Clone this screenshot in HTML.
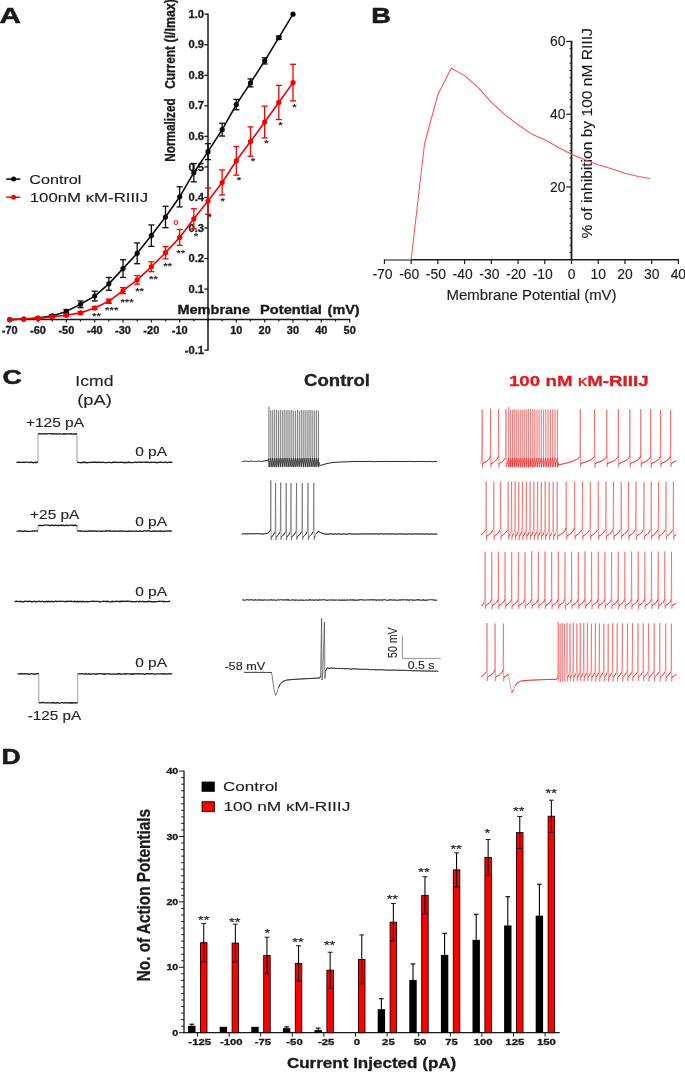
<!DOCTYPE html>
<html lang="en">
<head>
<meta charset="utf-8">
<title>Figure: kM-RIIIJ inhibition and excitability</title>
<style>
html,body{margin:0;padding:0;background:#fff;}
body{width:685px;height:1072px;overflow:hidden;}
svg{display:block;}
svg text{font-family:"Liberation Sans",sans-serif;}
</style>
</head>
<body>
<svg width="685" height="1072" viewBox="0 0 685 1072">
<rect x="0" y="0" width="685" height="1072" fill="#ffffff"/>
<g id="panelA">
<text x="-0.50" y="22.60" font-size="22.80" font-weight="bold" textLength="21.40" lengthAdjust="spacingAndGlyphs" fill="#1a1a1a" stroke="#1a1a1a" stroke-width="0.55">A</text>
<line x1="9.69" y1="319.60" x2="350.35" y2="319.60" stroke="#1a1a1a" stroke-width="1.50"/>
<line x1="208.00" y1="13.60" x2="208.00" y2="350.74" stroke="#1a1a1a" stroke-width="1.50"/>
<line x1="204.40" y1="350.14" x2="208.00" y2="350.14" stroke="#1a1a1a" stroke-width="1.30"/>
<text x="184.68" y="353.74" font-size="10.30" font-weight="bold" textLength="19.32" lengthAdjust="spacingAndGlyphs" fill="#1a1a1a" stroke="#1a1a1a" stroke-width="0.30">-0.1</text>
<line x1="204.40" y1="289.06" x2="208.00" y2="289.06" stroke="#1a1a1a" stroke-width="1.30"/>
<text x="188.41" y="292.66" font-size="10.30" font-weight="bold" textLength="15.59" lengthAdjust="spacingAndGlyphs" fill="#1a1a1a" stroke="#1a1a1a" stroke-width="0.30">0.1</text>
<line x1="204.40" y1="258.52" x2="208.00" y2="258.52" stroke="#1a1a1a" stroke-width="1.30"/>
<text x="188.41" y="262.12" font-size="10.30" font-weight="bold" textLength="15.59" lengthAdjust="spacingAndGlyphs" fill="#1a1a1a" stroke="#1a1a1a" stroke-width="0.30">0.2</text>
<line x1="204.40" y1="227.98" x2="208.00" y2="227.98" stroke="#1a1a1a" stroke-width="1.30"/>
<text x="188.41" y="231.58" font-size="10.30" font-weight="bold" textLength="15.59" lengthAdjust="spacingAndGlyphs" fill="#1a1a1a" stroke="#1a1a1a" stroke-width="0.30">0.3</text>
<line x1="204.40" y1="197.44" x2="208.00" y2="197.44" stroke="#1a1a1a" stroke-width="1.30"/>
<text x="188.41" y="201.04" font-size="10.30" font-weight="bold" textLength="15.59" lengthAdjust="spacingAndGlyphs" fill="#1a1a1a" stroke="#1a1a1a" stroke-width="0.30">0.4</text>
<line x1="204.40" y1="166.90" x2="208.00" y2="166.90" stroke="#1a1a1a" stroke-width="1.30"/>
<text x="188.41" y="170.50" font-size="10.30" font-weight="bold" textLength="15.59" lengthAdjust="spacingAndGlyphs" fill="#1a1a1a" stroke="#1a1a1a" stroke-width="0.30">0.5</text>
<line x1="204.40" y1="136.36" x2="208.00" y2="136.36" stroke="#1a1a1a" stroke-width="1.30"/>
<text x="188.41" y="139.96" font-size="10.30" font-weight="bold" textLength="15.59" lengthAdjust="spacingAndGlyphs" fill="#1a1a1a" stroke="#1a1a1a" stroke-width="0.30">0.6</text>
<line x1="204.40" y1="105.82" x2="208.00" y2="105.82" stroke="#1a1a1a" stroke-width="1.30"/>
<text x="188.41" y="109.42" font-size="10.30" font-weight="bold" textLength="15.59" lengthAdjust="spacingAndGlyphs" fill="#1a1a1a" stroke="#1a1a1a" stroke-width="0.30">0.7</text>
<line x1="204.40" y1="75.28" x2="208.00" y2="75.28" stroke="#1a1a1a" stroke-width="1.30"/>
<text x="188.41" y="78.88" font-size="10.30" font-weight="bold" textLength="15.59" lengthAdjust="spacingAndGlyphs" fill="#1a1a1a" stroke="#1a1a1a" stroke-width="0.30">0.8</text>
<line x1="204.40" y1="44.74" x2="208.00" y2="44.74" stroke="#1a1a1a" stroke-width="1.30"/>
<text x="188.41" y="48.34" font-size="10.30" font-weight="bold" textLength="15.59" lengthAdjust="spacingAndGlyphs" fill="#1a1a1a" stroke="#1a1a1a" stroke-width="0.30">0.9</text>
<line x1="204.40" y1="14.20" x2="208.00" y2="14.20" stroke="#1a1a1a" stroke-width="1.30"/>
<text x="188.41" y="17.80" font-size="10.30" font-weight="bold" textLength="15.59" lengthAdjust="spacingAndGlyphs" fill="#1a1a1a" stroke="#1a1a1a" stroke-width="0.30">1.0</text>
<line x1="9.69" y1="319.60" x2="9.69" y2="322.60" stroke="#1a1a1a" stroke-width="1.20"/>
<text x="1.74" y="333.70" font-size="10.30" font-weight="bold" textLength="15.90" lengthAdjust="spacingAndGlyphs" fill="#1a1a1a" stroke="#1a1a1a" stroke-width="0.30">-70</text>
<line x1="23.85" y1="319.60" x2="23.85" y2="321.50" stroke="#1a1a1a" stroke-width="1.20"/>
<line x1="38.02" y1="319.60" x2="38.02" y2="322.60" stroke="#1a1a1a" stroke-width="1.20"/>
<text x="30.07" y="333.70" font-size="10.30" font-weight="bold" textLength="15.90" lengthAdjust="spacingAndGlyphs" fill="#1a1a1a" stroke="#1a1a1a" stroke-width="0.30">-60</text>
<line x1="52.19" y1="319.60" x2="52.19" y2="321.50" stroke="#1a1a1a" stroke-width="1.20"/>
<line x1="66.35" y1="319.60" x2="66.35" y2="322.60" stroke="#1a1a1a" stroke-width="1.20"/>
<text x="58.40" y="333.70" font-size="10.30" font-weight="bold" textLength="15.90" lengthAdjust="spacingAndGlyphs" fill="#1a1a1a" stroke="#1a1a1a" stroke-width="0.30">-50</text>
<line x1="80.51" y1="319.60" x2="80.51" y2="321.50" stroke="#1a1a1a" stroke-width="1.20"/>
<line x1="94.68" y1="319.60" x2="94.68" y2="322.60" stroke="#1a1a1a" stroke-width="1.20"/>
<text x="86.73" y="333.70" font-size="10.30" font-weight="bold" textLength="15.90" lengthAdjust="spacingAndGlyphs" fill="#1a1a1a" stroke="#1a1a1a" stroke-width="0.30">-40</text>
<line x1="108.84" y1="319.60" x2="108.84" y2="321.50" stroke="#1a1a1a" stroke-width="1.20"/>
<line x1="123.01" y1="319.60" x2="123.01" y2="322.60" stroke="#1a1a1a" stroke-width="1.20"/>
<text x="115.06" y="333.70" font-size="10.30" font-weight="bold" textLength="15.90" lengthAdjust="spacingAndGlyphs" fill="#1a1a1a" stroke="#1a1a1a" stroke-width="0.30">-30</text>
<line x1="137.18" y1="319.60" x2="137.18" y2="321.50" stroke="#1a1a1a" stroke-width="1.20"/>
<line x1="151.34" y1="319.60" x2="151.34" y2="322.60" stroke="#1a1a1a" stroke-width="1.20"/>
<text x="143.39" y="333.70" font-size="10.30" font-weight="bold" textLength="15.90" lengthAdjust="spacingAndGlyphs" fill="#1a1a1a" stroke="#1a1a1a" stroke-width="0.30">-20</text>
<line x1="165.50" y1="319.60" x2="165.50" y2="321.50" stroke="#1a1a1a" stroke-width="1.20"/>
<line x1="179.67" y1="319.60" x2="179.67" y2="322.60" stroke="#1a1a1a" stroke-width="1.20"/>
<text x="171.72" y="333.70" font-size="10.30" font-weight="bold" textLength="15.90" lengthAdjust="spacingAndGlyphs" fill="#1a1a1a" stroke="#1a1a1a" stroke-width="0.30">-10</text>
<line x1="193.84" y1="319.60" x2="193.84" y2="321.50" stroke="#1a1a1a" stroke-width="1.20"/>
<line x1="208.00" y1="319.60" x2="208.00" y2="322.60" stroke="#1a1a1a" stroke-width="1.20"/>
<line x1="222.16" y1="319.60" x2="222.16" y2="321.50" stroke="#1a1a1a" stroke-width="1.20"/>
<line x1="236.33" y1="319.60" x2="236.33" y2="322.60" stroke="#1a1a1a" stroke-width="1.20"/>
<text x="230.21" y="333.70" font-size="10.30" font-weight="bold" textLength="12.24" lengthAdjust="spacingAndGlyphs" fill="#1a1a1a" stroke="#1a1a1a" stroke-width="0.30">10</text>
<line x1="250.50" y1="319.60" x2="250.50" y2="321.50" stroke="#1a1a1a" stroke-width="1.20"/>
<line x1="264.66" y1="319.60" x2="264.66" y2="322.60" stroke="#1a1a1a" stroke-width="1.20"/>
<text x="258.54" y="333.70" font-size="10.30" font-weight="bold" textLength="12.24" lengthAdjust="spacingAndGlyphs" fill="#1a1a1a" stroke="#1a1a1a" stroke-width="0.30">20</text>
<line x1="278.82" y1="319.60" x2="278.82" y2="321.50" stroke="#1a1a1a" stroke-width="1.20"/>
<line x1="292.99" y1="319.60" x2="292.99" y2="322.60" stroke="#1a1a1a" stroke-width="1.20"/>
<text x="286.87" y="333.70" font-size="10.30" font-weight="bold" textLength="12.24" lengthAdjust="spacingAndGlyphs" fill="#1a1a1a" stroke="#1a1a1a" stroke-width="0.30">30</text>
<line x1="307.15" y1="319.60" x2="307.15" y2="321.50" stroke="#1a1a1a" stroke-width="1.20"/>
<line x1="321.32" y1="319.60" x2="321.32" y2="322.60" stroke="#1a1a1a" stroke-width="1.20"/>
<text x="315.20" y="333.70" font-size="10.30" font-weight="bold" textLength="12.24" lengthAdjust="spacingAndGlyphs" fill="#1a1a1a" stroke="#1a1a1a" stroke-width="0.30">40</text>
<line x1="335.49" y1="319.60" x2="335.49" y2="321.50" stroke="#1a1a1a" stroke-width="1.20"/>
<line x1="349.65" y1="319.60" x2="349.65" y2="322.60" stroke="#1a1a1a" stroke-width="1.20"/>
<text x="343.53" y="333.70" font-size="10.30" font-weight="bold" textLength="12.24" lengthAdjust="spacingAndGlyphs" fill="#1a1a1a" stroke="#1a1a1a" stroke-width="0.30">50</text>
<text x="177.40" y="313.70" font-size="12.30" font-weight="bold" textLength="72.70" lengthAdjust="spacingAndGlyphs" fill="#1a1a1a" stroke="#1a1a1a" stroke-width="0.30">Membrane</text>
<text x="260.10" y="313.70" font-size="12.30" font-weight="bold" textLength="61.80" lengthAdjust="spacingAndGlyphs" fill="#1a1a1a" stroke="#1a1a1a" stroke-width="0.30">Potential</text>
<text x="327.60" y="313.70" font-size="12.30" font-weight="bold" textLength="32.00" lengthAdjust="spacingAndGlyphs" fill="#1a1a1a" stroke="#1a1a1a" stroke-width="0.30">(mV)</text>
<text transform="translate(174.70 161.70) rotate(-90)" x="0" y="0" font-size="14.80" font-weight="bold" textLength="63.40" lengthAdjust="spacingAndGlyphs" fill="#1a1a1a" stroke="#1a1a1a" stroke-width="0.35">Normalized</text>
<text transform="translate(174.70 88.80) rotate(-90)" x="0" y="0" font-size="14.80" font-weight="bold" textLength="42.80" lengthAdjust="spacingAndGlyphs" fill="#1a1a1a" stroke="#1a1a1a" stroke-width="0.35">Current</text>
<text transform="translate(174.70 42.50) rotate(-90)" x="0" y="0" font-size="14.80" font-weight="bold" textLength="43.50" lengthAdjust="spacingAndGlyphs" fill="#1a1a1a" stroke="#1a1a1a" stroke-width="0.35">(I/Imax)</text>
<line x1="6.20" y1="179.10" x2="20.30" y2="179.10" stroke="#000" stroke-width="1.50"/>
<circle cx="13.6" cy="179.1" r="2.5" fill="#000"/>
<text x="29.30" y="183.80" font-size="13.10" textLength="52.10" lengthAdjust="spacingAndGlyphs" fill="#1a1a1a" stroke="#1a1a1a" stroke-width="0.12">Control</text>
<line x1="6.20" y1="197.20" x2="20.30" y2="197.20" stroke="#f00" stroke-width="1.50"/>
<circle cx="13.6" cy="197.2" r="2.5" fill="#f00"/>
<text x="29.80" y="201.70" font-size="13.10" textLength="118.30" lengthAdjust="spacingAndGlyphs" fill="#1a1a1a" stroke="#1a1a1a" stroke-width="0.12">100nM κM-RIIIJ</text>
<polyline fill="none" stroke="#0a0a0a" stroke-width="1.60" stroke-linejoin="round" points="9.7,319.6 23.9,319.0 38.0,318.1 52.2,315.9 66.3,311.4 80.5,304.3 94.7,296.1 108.8,283.9 123.0,268.6 137.2,253.3 151.3,235.6 165.5,217.0 179.7,196.8 193.8,172.7 208.0,151.6 222.2,129.6 236.3,104.6 250.5,82.9 264.7,60.9 278.8,37.7 293.0,14.2"/>
<circle cx="9.69" cy="319.60" r="2.6" fill="#0a0a0a"/>
<circle cx="23.85" cy="318.99" r="2.6" fill="#0a0a0a"/>
<line x1="38.02" y1="317.46" x2="38.02" y2="318.68" stroke="#0a0a0a" stroke-width="1.30"/>
<line x1="35.02" y1="317.46" x2="41.02" y2="317.46" stroke="#0a0a0a" stroke-width="1.30"/>
<line x1="35.02" y1="318.68" x2="41.02" y2="318.68" stroke="#0a0a0a" stroke-width="1.30"/>
<circle cx="38.02" cy="318.07" r="2.6" fill="#0a0a0a"/>
<line x1="52.19" y1="314.71" x2="52.19" y2="317.16" stroke="#0a0a0a" stroke-width="1.30"/>
<line x1="49.19" y1="314.71" x2="55.19" y2="314.71" stroke="#0a0a0a" stroke-width="1.30"/>
<line x1="49.19" y1="317.16" x2="55.19" y2="317.16" stroke="#0a0a0a" stroke-width="1.30"/>
<circle cx="52.19" cy="315.94" r="2.6" fill="#0a0a0a"/>
<line x1="66.35" y1="309.52" x2="66.35" y2="313.19" stroke="#0a0a0a" stroke-width="1.30"/>
<line x1="63.35" y1="309.52" x2="69.35" y2="309.52" stroke="#0a0a0a" stroke-width="1.30"/>
<line x1="63.35" y1="313.19" x2="69.35" y2="313.19" stroke="#0a0a0a" stroke-width="1.30"/>
<circle cx="66.35" cy="311.35" r="2.6" fill="#0a0a0a"/>
<line x1="80.51" y1="300.97" x2="80.51" y2="307.69" stroke="#0a0a0a" stroke-width="1.30"/>
<line x1="77.51" y1="300.97" x2="83.51" y2="300.97" stroke="#0a0a0a" stroke-width="1.30"/>
<line x1="77.51" y1="307.69" x2="83.51" y2="307.69" stroke="#0a0a0a" stroke-width="1.30"/>
<circle cx="80.51" cy="304.33" r="2.6" fill="#0a0a0a"/>
<line x1="94.68" y1="291.20" x2="94.68" y2="300.97" stroke="#0a0a0a" stroke-width="1.30"/>
<line x1="91.68" y1="291.20" x2="97.68" y2="291.20" stroke="#0a0a0a" stroke-width="1.30"/>
<line x1="91.68" y1="300.97" x2="97.68" y2="300.97" stroke="#0a0a0a" stroke-width="1.30"/>
<circle cx="94.68" cy="296.08" r="2.6" fill="#0a0a0a"/>
<line x1="108.84" y1="277.45" x2="108.84" y2="290.28" stroke="#0a0a0a" stroke-width="1.30"/>
<line x1="105.84" y1="277.45" x2="111.84" y2="277.45" stroke="#0a0a0a" stroke-width="1.30"/>
<line x1="105.84" y1="290.28" x2="111.84" y2="290.28" stroke="#0a0a0a" stroke-width="1.30"/>
<circle cx="108.84" cy="283.87" r="2.6" fill="#0a0a0a"/>
<line x1="123.01" y1="259.74" x2="123.01" y2="277.45" stroke="#0a0a0a" stroke-width="1.30"/>
<line x1="120.01" y1="259.74" x2="126.01" y2="259.74" stroke="#0a0a0a" stroke-width="1.30"/>
<line x1="120.01" y1="277.45" x2="126.01" y2="277.45" stroke="#0a0a0a" stroke-width="1.30"/>
<circle cx="123.01" cy="268.60" r="2.6" fill="#0a0a0a"/>
<line x1="137.18" y1="242.94" x2="137.18" y2="263.71" stroke="#0a0a0a" stroke-width="1.30"/>
<line x1="134.18" y1="242.94" x2="140.18" y2="242.94" stroke="#0a0a0a" stroke-width="1.30"/>
<line x1="134.18" y1="263.71" x2="140.18" y2="263.71" stroke="#0a0a0a" stroke-width="1.30"/>
<circle cx="137.18" cy="253.33" r="2.6" fill="#0a0a0a"/>
<line x1="151.34" y1="224.93" x2="151.34" y2="246.30" stroke="#0a0a0a" stroke-width="1.30"/>
<line x1="148.34" y1="224.93" x2="154.34" y2="224.93" stroke="#0a0a0a" stroke-width="1.30"/>
<line x1="148.34" y1="246.30" x2="154.34" y2="246.30" stroke="#0a0a0a" stroke-width="1.30"/>
<circle cx="151.34" cy="235.62" r="2.6" fill="#0a0a0a"/>
<line x1="165.50" y1="206.30" x2="165.50" y2="227.67" stroke="#0a0a0a" stroke-width="1.30"/>
<line x1="162.50" y1="206.30" x2="168.50" y2="206.30" stroke="#0a0a0a" stroke-width="1.30"/>
<line x1="162.50" y1="227.67" x2="168.50" y2="227.67" stroke="#0a0a0a" stroke-width="1.30"/>
<circle cx="165.50" cy="216.99" r="2.6" fill="#0a0a0a"/>
<line x1="179.67" y1="186.75" x2="179.67" y2="206.91" stroke="#0a0a0a" stroke-width="1.30"/>
<line x1="176.67" y1="186.75" x2="182.67" y2="186.75" stroke="#0a0a0a" stroke-width="1.30"/>
<line x1="176.67" y1="206.91" x2="182.67" y2="206.91" stroke="#0a0a0a" stroke-width="1.30"/>
<circle cx="179.67" cy="196.83" r="2.6" fill="#0a0a0a"/>
<line x1="193.84" y1="163.54" x2="193.84" y2="181.86" stroke="#0a0a0a" stroke-width="1.30"/>
<line x1="190.84" y1="163.54" x2="196.84" y2="163.54" stroke="#0a0a0a" stroke-width="1.30"/>
<line x1="190.84" y1="181.86" x2="196.84" y2="181.86" stroke="#0a0a0a" stroke-width="1.30"/>
<circle cx="193.84" cy="172.70" r="2.6" fill="#0a0a0a"/>
<line x1="208.00" y1="143.69" x2="208.00" y2="159.57" stroke="#0a0a0a" stroke-width="1.30"/>
<line x1="205.00" y1="143.69" x2="211.00" y2="143.69" stroke="#0a0a0a" stroke-width="1.30"/>
<line x1="205.00" y1="159.57" x2="211.00" y2="159.57" stroke="#0a0a0a" stroke-width="1.30"/>
<circle cx="208.00" cy="151.63" r="2.6" fill="#0a0a0a"/>
<line x1="222.16" y1="123.23" x2="222.16" y2="136.05" stroke="#0a0a0a" stroke-width="1.30"/>
<line x1="219.16" y1="123.23" x2="225.16" y2="123.23" stroke="#0a0a0a" stroke-width="1.30"/>
<line x1="219.16" y1="136.05" x2="225.16" y2="136.05" stroke="#0a0a0a" stroke-width="1.30"/>
<circle cx="222.16" cy="129.64" r="2.6" fill="#0a0a0a"/>
<line x1="236.33" y1="99.41" x2="236.33" y2="109.79" stroke="#0a0a0a" stroke-width="1.30"/>
<line x1="233.33" y1="99.41" x2="239.33" y2="99.41" stroke="#0a0a0a" stroke-width="1.30"/>
<line x1="233.33" y1="109.79" x2="239.33" y2="109.79" stroke="#0a0a0a" stroke-width="1.30"/>
<circle cx="236.33" cy="104.60" r="2.6" fill="#0a0a0a"/>
<line x1="250.50" y1="78.94" x2="250.50" y2="86.89" stroke="#0a0a0a" stroke-width="1.30"/>
<line x1="247.50" y1="78.94" x2="253.50" y2="78.94" stroke="#0a0a0a" stroke-width="1.30"/>
<line x1="247.50" y1="86.89" x2="253.50" y2="86.89" stroke="#0a0a0a" stroke-width="1.30"/>
<circle cx="250.50" cy="82.92" r="2.6" fill="#0a0a0a"/>
<line x1="264.66" y1="57.87" x2="264.66" y2="63.98" stroke="#0a0a0a" stroke-width="1.30"/>
<line x1="261.66" y1="57.87" x2="267.66" y2="57.87" stroke="#0a0a0a" stroke-width="1.30"/>
<line x1="261.66" y1="63.98" x2="267.66" y2="63.98" stroke="#0a0a0a" stroke-width="1.30"/>
<circle cx="264.66" cy="60.93" r="2.6" fill="#0a0a0a"/>
<line x1="278.82" y1="36.19" x2="278.82" y2="39.24" stroke="#0a0a0a" stroke-width="1.30"/>
<line x1="275.82" y1="36.19" x2="281.82" y2="36.19" stroke="#0a0a0a" stroke-width="1.30"/>
<line x1="275.82" y1="39.24" x2="281.82" y2="39.24" stroke="#0a0a0a" stroke-width="1.30"/>
<circle cx="278.82" cy="37.72" r="2.6" fill="#0a0a0a"/>
<circle cx="292.99" cy="14.20" r="2.6" fill="#0a0a0a"/>
<polyline fill="none" stroke="#f40000" stroke-width="1.60" stroke-linejoin="round" points="9.7,319.6 23.9,319.0 38.0,318.4 52.2,316.9 66.3,315.3 80.5,312.9 94.7,308.0 108.8,301.3 123.0,290.6 137.2,279.9 151.3,266.8 165.5,252.7 179.7,237.4 193.8,218.8 208.0,201.1 222.2,182.5 236.3,160.8 250.5,141.6 264.7,122.0 278.8,102.5 293.0,82.6"/>
<circle cx="9.69" cy="319.60" r="2.6" fill="#f40000"/>
<circle cx="23.85" cy="318.99" r="2.6" fill="#f40000"/>
<circle cx="38.02" cy="318.38" r="2.6" fill="#f40000"/>
<line x1="52.19" y1="316.24" x2="52.19" y2="317.46" stroke="#f40000" stroke-width="1.30"/>
<line x1="49.19" y1="316.24" x2="55.19" y2="316.24" stroke="#f40000" stroke-width="1.30"/>
<line x1="49.19" y1="317.46" x2="55.19" y2="317.46" stroke="#f40000" stroke-width="1.30"/>
<circle cx="52.19" cy="316.85" r="2.6" fill="#f40000"/>
<line x1="66.35" y1="314.41" x2="66.35" y2="316.24" stroke="#f40000" stroke-width="1.30"/>
<line x1="63.35" y1="314.41" x2="69.35" y2="314.41" stroke="#f40000" stroke-width="1.30"/>
<line x1="63.35" y1="316.24" x2="69.35" y2="316.24" stroke="#f40000" stroke-width="1.30"/>
<circle cx="66.35" cy="315.32" r="2.6" fill="#f40000"/>
<line x1="80.51" y1="311.66" x2="80.51" y2="314.10" stroke="#f40000" stroke-width="1.30"/>
<line x1="77.51" y1="311.66" x2="83.51" y2="311.66" stroke="#f40000" stroke-width="1.30"/>
<line x1="77.51" y1="314.10" x2="83.51" y2="314.10" stroke="#f40000" stroke-width="1.30"/>
<circle cx="80.51" cy="312.88" r="2.6" fill="#f40000"/>
<line x1="94.68" y1="306.47" x2="94.68" y2="309.52" stroke="#f40000" stroke-width="1.30"/>
<line x1="91.68" y1="306.47" x2="97.68" y2="306.47" stroke="#f40000" stroke-width="1.30"/>
<line x1="91.68" y1="309.52" x2="97.68" y2="309.52" stroke="#f40000" stroke-width="1.30"/>
<circle cx="94.68" cy="307.99" r="2.6" fill="#f40000"/>
<line x1="108.84" y1="299.14" x2="108.84" y2="303.41" stroke="#f40000" stroke-width="1.30"/>
<line x1="105.84" y1="299.14" x2="111.84" y2="299.14" stroke="#f40000" stroke-width="1.30"/>
<line x1="105.84" y1="303.41" x2="111.84" y2="303.41" stroke="#f40000" stroke-width="1.30"/>
<circle cx="108.84" cy="301.28" r="2.6" fill="#f40000"/>
<line x1="123.01" y1="287.53" x2="123.01" y2="293.64" stroke="#f40000" stroke-width="1.30"/>
<line x1="120.01" y1="287.53" x2="126.01" y2="287.53" stroke="#f40000" stroke-width="1.30"/>
<line x1="120.01" y1="293.64" x2="126.01" y2="293.64" stroke="#f40000" stroke-width="1.30"/>
<circle cx="123.01" cy="290.59" r="2.6" fill="#f40000"/>
<line x1="137.18" y1="275.62" x2="137.18" y2="284.17" stroke="#f40000" stroke-width="1.30"/>
<line x1="134.18" y1="275.62" x2="140.18" y2="275.62" stroke="#f40000" stroke-width="1.30"/>
<line x1="134.18" y1="284.17" x2="140.18" y2="284.17" stroke="#f40000" stroke-width="1.30"/>
<circle cx="137.18" cy="279.90" r="2.6" fill="#f40000"/>
<line x1="151.34" y1="261.88" x2="151.34" y2="271.65" stroke="#f40000" stroke-width="1.30"/>
<line x1="148.34" y1="261.88" x2="154.34" y2="261.88" stroke="#f40000" stroke-width="1.30"/>
<line x1="148.34" y1="271.65" x2="154.34" y2="271.65" stroke="#f40000" stroke-width="1.30"/>
<circle cx="151.34" cy="266.77" r="2.6" fill="#f40000"/>
<line x1="165.50" y1="246.61" x2="165.50" y2="258.83" stroke="#f40000" stroke-width="1.30"/>
<line x1="162.50" y1="246.61" x2="168.50" y2="246.61" stroke="#f40000" stroke-width="1.30"/>
<line x1="162.50" y1="258.83" x2="168.50" y2="258.83" stroke="#f40000" stroke-width="1.30"/>
<circle cx="165.50" cy="252.72" r="2.6" fill="#f40000"/>
<line x1="179.67" y1="229.51" x2="179.67" y2="245.39" stroke="#f40000" stroke-width="1.30"/>
<line x1="176.67" y1="229.51" x2="182.67" y2="229.51" stroke="#f40000" stroke-width="1.30"/>
<line x1="176.67" y1="245.39" x2="182.67" y2="245.39" stroke="#f40000" stroke-width="1.30"/>
<circle cx="179.67" cy="237.45" r="2.6" fill="#f40000"/>
<line x1="193.84" y1="208.74" x2="193.84" y2="228.90" stroke="#f40000" stroke-width="1.30"/>
<line x1="190.84" y1="208.74" x2="196.84" y2="208.74" stroke="#f40000" stroke-width="1.30"/>
<line x1="190.84" y1="228.90" x2="196.84" y2="228.90" stroke="#f40000" stroke-width="1.30"/>
<circle cx="193.84" cy="218.82" r="2.6" fill="#f40000"/>
<line x1="208.00" y1="187.97" x2="208.00" y2="214.24" stroke="#f40000" stroke-width="1.30"/>
<line x1="205.00" y1="187.97" x2="211.00" y2="187.97" stroke="#f40000" stroke-width="1.30"/>
<line x1="205.00" y1="214.24" x2="211.00" y2="214.24" stroke="#f40000" stroke-width="1.30"/>
<circle cx="208.00" cy="201.10" r="2.6" fill="#f40000"/>
<line x1="222.16" y1="169.95" x2="222.16" y2="195.00" stroke="#f40000" stroke-width="1.30"/>
<line x1="219.16" y1="169.95" x2="225.16" y2="169.95" stroke="#f40000" stroke-width="1.30"/>
<line x1="219.16" y1="195.00" x2="225.16" y2="195.00" stroke="#f40000" stroke-width="1.30"/>
<circle cx="222.16" cy="182.48" r="2.6" fill="#f40000"/>
<line x1="236.33" y1="146.44" x2="236.33" y2="175.15" stroke="#f40000" stroke-width="1.30"/>
<line x1="233.33" y1="146.44" x2="239.33" y2="146.44" stroke="#f40000" stroke-width="1.30"/>
<line x1="233.33" y1="175.15" x2="239.33" y2="175.15" stroke="#f40000" stroke-width="1.30"/>
<circle cx="236.33" cy="160.79" r="2.6" fill="#f40000"/>
<line x1="250.50" y1="126.89" x2="250.50" y2="156.21" stroke="#f40000" stroke-width="1.30"/>
<line x1="247.50" y1="126.89" x2="253.50" y2="126.89" stroke="#f40000" stroke-width="1.30"/>
<line x1="247.50" y1="156.21" x2="253.50" y2="156.21" stroke="#f40000" stroke-width="1.30"/>
<circle cx="250.50" cy="141.55" r="2.6" fill="#f40000"/>
<line x1="264.66" y1="106.13" x2="264.66" y2="137.89" stroke="#f40000" stroke-width="1.30"/>
<line x1="261.66" y1="106.13" x2="267.66" y2="106.13" stroke="#f40000" stroke-width="1.30"/>
<line x1="261.66" y1="137.89" x2="267.66" y2="137.89" stroke="#f40000" stroke-width="1.30"/>
<circle cx="264.66" cy="122.01" r="2.6" fill="#f40000"/>
<line x1="278.82" y1="85.36" x2="278.82" y2="119.56" stroke="#f40000" stroke-width="1.30"/>
<line x1="275.82" y1="85.36" x2="281.82" y2="85.36" stroke="#f40000" stroke-width="1.30"/>
<line x1="275.82" y1="119.56" x2="281.82" y2="119.56" stroke="#f40000" stroke-width="1.30"/>
<circle cx="278.82" cy="102.46" r="2.6" fill="#f40000"/>
<line x1="292.99" y1="64.29" x2="292.99" y2="100.93" stroke="#f40000" stroke-width="1.30"/>
<line x1="289.99" y1="64.29" x2="295.99" y2="64.29" stroke="#f40000" stroke-width="1.30"/>
<line x1="289.99" y1="100.93" x2="295.99" y2="100.93" stroke="#f40000" stroke-width="1.30"/>
<circle cx="292.99" cy="82.61" r="2.6" fill="#f40000"/>
<text x="91.95" y="319.30" font-size="9.00" font-weight="bold" textLength="8.90" lengthAdjust="spacingAndGlyphs" fill="#2a2a2a">**</text>
<text x="105.03" y="312.70" font-size="9.00" font-weight="bold" textLength="13.34" lengthAdjust="spacingAndGlyphs" fill="#2a2a2a">***</text>
<text x="120.43" y="305.30" font-size="9.00" font-weight="bold" textLength="13.34" lengthAdjust="spacingAndGlyphs" fill="#2a2a2a">***</text>
<text x="135.15" y="294.10" font-size="9.00" font-weight="bold" textLength="8.90" lengthAdjust="spacingAndGlyphs" fill="#2a2a2a">**</text>
<text x="148.95" y="282.30" font-size="9.00" font-weight="bold" textLength="8.90" lengthAdjust="spacingAndGlyphs" fill="#2a2a2a">**</text>
<text x="163.15" y="268.90" font-size="9.00" font-weight="bold" textLength="8.90" lengthAdjust="spacingAndGlyphs" fill="#2a2a2a">**</text>
<text x="176.25" y="255.80" font-size="9.00" font-weight="bold" textLength="8.90" lengthAdjust="spacingAndGlyphs" fill="#2a2a2a">**</text>
<text x="193.78" y="238.90" font-size="9.00" font-weight="bold" textLength="4.45" lengthAdjust="spacingAndGlyphs" fill="#2a2a2a">*</text>
<text x="207.18" y="219.70" font-size="9.00" font-weight="bold" textLength="4.45" lengthAdjust="spacingAndGlyphs" fill="#2a2a2a">*</text>
<text x="220.58" y="204.20" font-size="9.00" font-weight="bold" textLength="4.45" lengthAdjust="spacingAndGlyphs" fill="#2a2a2a">*</text>
<text x="236.68" y="182.70" font-size="9.00" font-weight="bold" textLength="4.45" lengthAdjust="spacingAndGlyphs" fill="#2a2a2a">*</text>
<text x="250.68" y="164.10" font-size="9.00" font-weight="bold" textLength="4.45" lengthAdjust="spacingAndGlyphs" fill="#2a2a2a">*</text>
<text x="264.18" y="146.10" font-size="9.00" font-weight="bold" textLength="4.45" lengthAdjust="spacingAndGlyphs" fill="#2a2a2a">*</text>
<text x="278.18" y="127.60" font-size="9.00" font-weight="bold" textLength="4.45" lengthAdjust="spacingAndGlyphs" fill="#2a2a2a">*</text>
<text x="292.18" y="109.60" font-size="9.00" font-weight="bold" textLength="4.45" lengthAdjust="spacingAndGlyphs" fill="#2a2a2a">*</text>
<circle cx="175.9" cy="222.6" r="1.9" fill="none" stroke="#f00" stroke-width="1.1"/>
</g>
<g id="panelB">
<text x="371.20" y="23.30" font-size="22.90" font-weight="bold" textLength="19.60" lengthAdjust="spacingAndGlyphs" fill="#1a1a1a" stroke="#1a1a1a" stroke-width="0.55">B</text>
<line x1="383.86" y1="259.80" x2="678.98" y2="259.80" stroke="#1a1a1a" stroke-width="1.40"/>
<line x1="571.50" y1="40.80" x2="571.50" y2="259.80" stroke="#1a1a1a" stroke-width="1.80"/>
<line x1="569.60" y1="252.52" x2="571.50" y2="252.52" stroke="#1a1a1a" stroke-width="1.00"/>
<line x1="569.60" y1="245.24" x2="571.50" y2="245.24" stroke="#1a1a1a" stroke-width="1.00"/>
<line x1="569.60" y1="237.96" x2="571.50" y2="237.96" stroke="#1a1a1a" stroke-width="1.00"/>
<line x1="569.60" y1="230.68" x2="571.50" y2="230.68" stroke="#1a1a1a" stroke-width="1.00"/>
<line x1="569.60" y1="223.40" x2="571.50" y2="223.40" stroke="#1a1a1a" stroke-width="1.00"/>
<line x1="569.60" y1="216.12" x2="571.50" y2="216.12" stroke="#1a1a1a" stroke-width="1.00"/>
<line x1="569.60" y1="208.84" x2="571.50" y2="208.84" stroke="#1a1a1a" stroke-width="1.00"/>
<line x1="569.60" y1="201.56" x2="571.50" y2="201.56" stroke="#1a1a1a" stroke-width="1.00"/>
<line x1="569.60" y1="194.28" x2="571.50" y2="194.28" stroke="#1a1a1a" stroke-width="1.00"/>
<line x1="566.30" y1="187.00" x2="571.50" y2="187.00" stroke="#1a1a1a" stroke-width="1.20"/>
<text x="550.04" y="191.90" font-size="13.90" textLength="15.46" lengthAdjust="spacingAndGlyphs" fill="#1a1a1a" stroke="#1a1a1a" stroke-width="0.12">20</text>
<line x1="569.60" y1="179.72" x2="571.50" y2="179.72" stroke="#1a1a1a" stroke-width="1.00"/>
<line x1="569.60" y1="172.44" x2="571.50" y2="172.44" stroke="#1a1a1a" stroke-width="1.00"/>
<line x1="569.60" y1="165.16" x2="571.50" y2="165.16" stroke="#1a1a1a" stroke-width="1.00"/>
<line x1="569.60" y1="157.88" x2="571.50" y2="157.88" stroke="#1a1a1a" stroke-width="1.00"/>
<line x1="569.60" y1="150.60" x2="571.50" y2="150.60" stroke="#1a1a1a" stroke-width="1.00"/>
<line x1="569.60" y1="143.32" x2="571.50" y2="143.32" stroke="#1a1a1a" stroke-width="1.00"/>
<line x1="569.60" y1="136.04" x2="571.50" y2="136.04" stroke="#1a1a1a" stroke-width="1.00"/>
<line x1="569.60" y1="128.76" x2="571.50" y2="128.76" stroke="#1a1a1a" stroke-width="1.00"/>
<line x1="569.60" y1="121.48" x2="571.50" y2="121.48" stroke="#1a1a1a" stroke-width="1.00"/>
<line x1="566.30" y1="114.20" x2="571.50" y2="114.20" stroke="#1a1a1a" stroke-width="1.20"/>
<text x="550.04" y="119.10" font-size="13.90" textLength="15.46" lengthAdjust="spacingAndGlyphs" fill="#1a1a1a" stroke="#1a1a1a" stroke-width="0.12">40</text>
<line x1="569.60" y1="106.92" x2="571.50" y2="106.92" stroke="#1a1a1a" stroke-width="1.00"/>
<line x1="569.60" y1="99.64" x2="571.50" y2="99.64" stroke="#1a1a1a" stroke-width="1.00"/>
<line x1="569.60" y1="92.36" x2="571.50" y2="92.36" stroke="#1a1a1a" stroke-width="1.00"/>
<line x1="569.60" y1="85.08" x2="571.50" y2="85.08" stroke="#1a1a1a" stroke-width="1.00"/>
<line x1="569.60" y1="77.80" x2="571.50" y2="77.80" stroke="#1a1a1a" stroke-width="1.00"/>
<line x1="569.60" y1="70.52" x2="571.50" y2="70.52" stroke="#1a1a1a" stroke-width="1.00"/>
<line x1="569.60" y1="63.24" x2="571.50" y2="63.24" stroke="#1a1a1a" stroke-width="1.00"/>
<line x1="569.60" y1="55.96" x2="571.50" y2="55.96" stroke="#1a1a1a" stroke-width="1.00"/>
<line x1="569.60" y1="48.68" x2="571.50" y2="48.68" stroke="#1a1a1a" stroke-width="1.00"/>
<line x1="566.30" y1="41.40" x2="571.50" y2="41.40" stroke="#1a1a1a" stroke-width="1.20"/>
<text x="550.04" y="46.30" font-size="13.90" textLength="15.46" lengthAdjust="spacingAndGlyphs" fill="#1a1a1a" stroke="#1a1a1a" stroke-width="0.12">60</text>
<line x1="384.46" y1="259.80" x2="384.46" y2="264.00" stroke="#1a1a1a" stroke-width="1.20"/>
<text x="372.41" y="278.60" font-size="13.90" textLength="20.09" lengthAdjust="spacingAndGlyphs" fill="#1a1a1a" stroke="#1a1a1a" stroke-width="0.12">-70</text>
<line x1="411.18" y1="259.80" x2="411.18" y2="264.00" stroke="#1a1a1a" stroke-width="1.20"/>
<text x="399.13" y="278.60" font-size="13.90" textLength="20.09" lengthAdjust="spacingAndGlyphs" fill="#1a1a1a" stroke="#1a1a1a" stroke-width="0.12">-60</text>
<line x1="437.90" y1="259.80" x2="437.90" y2="264.00" stroke="#1a1a1a" stroke-width="1.20"/>
<text x="425.85" y="278.60" font-size="13.90" textLength="20.09" lengthAdjust="spacingAndGlyphs" fill="#1a1a1a" stroke="#1a1a1a" stroke-width="0.12">-50</text>
<line x1="464.62" y1="259.80" x2="464.62" y2="264.00" stroke="#1a1a1a" stroke-width="1.20"/>
<text x="452.57" y="278.60" font-size="13.90" textLength="20.09" lengthAdjust="spacingAndGlyphs" fill="#1a1a1a" stroke="#1a1a1a" stroke-width="0.12">-40</text>
<line x1="491.34" y1="259.80" x2="491.34" y2="264.00" stroke="#1a1a1a" stroke-width="1.20"/>
<text x="479.29" y="278.60" font-size="13.90" textLength="20.09" lengthAdjust="spacingAndGlyphs" fill="#1a1a1a" stroke="#1a1a1a" stroke-width="0.12">-30</text>
<line x1="518.06" y1="259.80" x2="518.06" y2="264.00" stroke="#1a1a1a" stroke-width="1.20"/>
<text x="506.01" y="278.60" font-size="13.90" textLength="20.09" lengthAdjust="spacingAndGlyphs" fill="#1a1a1a" stroke="#1a1a1a" stroke-width="0.12">-20</text>
<line x1="544.78" y1="259.80" x2="544.78" y2="264.00" stroke="#1a1a1a" stroke-width="1.20"/>
<text x="532.73" y="278.60" font-size="13.90" textLength="20.09" lengthAdjust="spacingAndGlyphs" fill="#1a1a1a" stroke="#1a1a1a" stroke-width="0.12">-10</text>
<line x1="571.50" y1="259.80" x2="571.50" y2="264.00" stroke="#1a1a1a" stroke-width="1.20"/>
<text x="567.63" y="278.60" font-size="13.90" textLength="7.73" lengthAdjust="spacingAndGlyphs" fill="#1a1a1a" stroke="#1a1a1a" stroke-width="0.12">0</text>
<line x1="598.22" y1="259.80" x2="598.22" y2="264.00" stroke="#1a1a1a" stroke-width="1.20"/>
<text x="590.49" y="278.60" font-size="13.90" textLength="15.46" lengthAdjust="spacingAndGlyphs" fill="#1a1a1a" stroke="#1a1a1a" stroke-width="0.12">10</text>
<line x1="624.94" y1="259.80" x2="624.94" y2="264.00" stroke="#1a1a1a" stroke-width="1.20"/>
<text x="617.21" y="278.60" font-size="13.90" textLength="15.46" lengthAdjust="spacingAndGlyphs" fill="#1a1a1a" stroke="#1a1a1a" stroke-width="0.12">20</text>
<line x1="651.66" y1="259.80" x2="651.66" y2="264.00" stroke="#1a1a1a" stroke-width="1.20"/>
<text x="643.93" y="278.60" font-size="13.90" textLength="15.46" lengthAdjust="spacingAndGlyphs" fill="#1a1a1a" stroke="#1a1a1a" stroke-width="0.12">30</text>
<line x1="678.38" y1="259.80" x2="678.38" y2="264.00" stroke="#1a1a1a" stroke-width="1.20"/>
<text x="670.65" y="278.60" font-size="13.90" textLength="15.46" lengthAdjust="spacingAndGlyphs" fill="#1a1a1a" stroke="#1a1a1a" stroke-width="0.12">40</text>
<text x="446.50" y="299.60" font-size="14.00" textLength="170.00" lengthAdjust="spacingAndGlyphs" fill="#1a1a1a" stroke="#1a1a1a" stroke-width="0.12">Membrane Potential (mV)</text>
<text transform="translate(592.00 238.60) rotate(-90)" x="0" y="0" font-size="14.00" textLength="210.40" lengthAdjust="spacingAndGlyphs" fill="#1a1a1a" stroke="#1a1a1a" stroke-width="0.12">% of inhibition by 100 nM RIIIJ</text>
<polyline fill="none" stroke="#f45555" stroke-width="1.05" stroke-linejoin="round" points="384.5,259.4 411.2,259.4 424.5,144.0 437.9,94.5 451.3,68.3 464.6,75.6 478.0,87.3 491.3,102.2 504.7,114.6 518.1,124.8 531.4,133.9 544.8,139.7 558.1,147.3 571.5,154.2 584.9,159.7 598.2,164.8 611.6,168.8 624.9,173.2 638.3,176.4 649.8,178.6"/>
</g>
<g id="panelC">
<text x="2.60" y="384.40" font-size="20.00" font-weight="bold" textLength="19.40" lengthAdjust="spacingAndGlyphs" fill="#1a1a1a" stroke="#1a1a1a" stroke-width="0.55">C</text>
<text x="75.30" y="385.90" font-size="14.70" textLength="38.20" lengthAdjust="spacingAndGlyphs" fill="#222" stroke="#222" stroke-width="0.12">Icmd</text>
<text x="77.20" y="405.30" font-size="14.70" textLength="34.60" lengthAdjust="spacingAndGlyphs" fill="#222" stroke="#222" stroke-width="0.12">(pA)</text>
<text x="304.10" y="386.30" font-size="15.60" font-weight="bold" textLength="65.90" lengthAdjust="spacingAndGlyphs" fill="#222" stroke="#222" stroke-width="0.30">Control</text>
<text x="508.90" y="386.30" font-size="15.20" font-weight="bold" textLength="139.80" lengthAdjust="spacingAndGlyphs" fill="#e01a22" stroke="#e01a22" stroke-width="0.30">100 nM <tspan font-weight="normal">κ</tspan>M-RIIIJ</text>
<polyline fill="none" stroke="#1e1e1e" stroke-width="1.35" points="16.4,462.3 17.4,462.2 18.4,462.5 19.4,462.1 20.4,462.4 21.4,462.3 22.4,462.1 23.4,462.4 24.4,462.1 25.4,462.4 26.4,462.1 27.4,462.2 28.4,462.4 29.4,462.6 30.4,462.2 31.4,462.2 32.4,462.5 33.4,462.7 34.4,462.4 35.4,462.3 36.4,462.7 37.4,462.1 38.0,462.6"/>
<polyline fill="none" stroke="#1e1e1e" stroke-width="1.35" points="38.0,433.8 39.0,433.7 40.0,433.7 41.0,433.8 42.0,434.1 43.0,433.7 44.0,433.9 45.0,434.0 46.0,433.8 47.0,433.9 48.0,433.6 49.0,433.6 50.0,433.7 51.0,434.0 52.0,433.9 53.0,433.8 54.0,434.0 55.0,433.9 56.0,433.8 57.0,434.1 58.0,434.0 59.0,433.7 60.0,433.9 61.0,433.9 62.0,434.1 63.0,434.0 64.0,433.8 65.0,434.2 66.0,433.7 67.0,433.9 68.0,434.1 69.0,433.7 70.0,433.9 71.0,433.6 72.0,434.0 73.0,434.1 74.0,433.9 75.0,434.1 76.0,433.8 77.0,434.0"/>
<polyline fill="none" stroke="#1e1e1e" stroke-width="1.35" points="77.0,462.5 78.0,462.4 79.0,462.4 80.0,462.6 81.0,462.7 82.0,462.4 83.0,462.5 84.0,462.1 85.0,462.5 86.0,462.5 87.0,462.7 88.0,462.6 89.0,462.3 90.0,462.3 91.0,462.5 92.0,462.1 93.0,462.4 94.0,462.2 95.0,462.2 96.0,462.1 97.0,462.6 98.0,462.2 99.0,462.2 100.0,462.3 101.0,462.6 102.0,462.1 103.0,462.4 104.0,462.4 105.0,462.6 106.0,462.6 107.0,462.6 108.0,462.3 109.0,462.3 110.0,462.3 111.0,462.6 112.0,462.7 113.0,462.2 114.0,462.2 115.0,462.2 116.0,462.2 117.0,462.4 118.0,462.5 119.0,462.3 120.0,462.1 121.0,462.4 122.0,462.3 123.0,462.4 124.0,462.7 125.0,462.5 126.0,462.4 127.0,462.5 128.0,462.5 129.0,462.1 130.0,462.6 131.0,462.6 132.0,462.6 133.0,462.6 134.0,462.3 135.0,462.3 136.0,462.2 137.0,462.5 138.0,462.1 139.0,462.1 140.0,462.2 141.0,462.2 142.0,462.3 143.0,462.1 144.0,462.1 145.0,462.2 146.0,462.2 147.0,462.3 148.0,462.1 149.0,462.6 150.0,462.5 151.0,462.2 152.0,462.3 153.0,462.3 154.0,462.3 155.0,462.2 156.0,462.6 157.0,462.7 158.0,462.4 159.0,462.4 160.0,462.2 161.0,462.2 162.0,462.3 163.0,462.3 164.0,462.6 165.0,462.2 166.0,462.1 167.0,462.7 168.0,462.4 169.0,462.2 170.0,462.4 171.0,462.1 172.0,462.4 172.3,462.7"/>
<line x1="38.00" y1="462.40" x2="38.00" y2="433.90" stroke="#777" stroke-width="0.70"/>
<line x1="77.00" y1="462.40" x2="77.00" y2="433.90" stroke="#777" stroke-width="0.70"/>
<polyline fill="none" stroke="#1e1e1e" stroke-width="1.35" points="16.6,531.3 17.6,531.2 18.6,531.0 19.6,531.0 20.6,530.9 21.6,531.3 22.6,531.1 23.6,531.3 24.6,531.0 25.6,530.9 26.6,531.3 27.6,531.4 28.6,531.3 29.6,531.3 30.6,531.3 31.6,531.2 32.6,530.9 33.6,531.1 34.6,531.0 35.6,530.8 36.6,530.8 37.6,531.0 38.0,531.0"/>
<polyline fill="none" stroke="#1e1e1e" stroke-width="1.35" points="38.0,525.4 39.0,525.6 40.0,525.3 41.0,525.6 42.0,525.6 43.0,525.6 44.0,525.2 45.0,525.1 46.0,525.1 47.0,525.1 48.0,525.1 49.0,525.4 50.0,525.5 51.0,525.5 52.0,525.3 53.0,525.4 54.0,525.5 55.0,525.1 56.0,525.4 57.0,525.5 58.0,525.5 59.0,525.5 60.0,525.3 61.0,525.1 62.0,525.5 63.0,525.2 64.0,525.5 65.0,525.6 66.0,525.2 67.0,525.2 68.0,525.6 69.0,525.4 70.0,525.1 71.0,525.1 72.0,525.1 73.0,525.5 74.0,525.5 75.0,525.1 76.0,525.5 77.0,525.6 77.1,525.4"/>
<polyline fill="none" stroke="#1e1e1e" stroke-width="1.35" points="77.1,531.0 78.1,531.1 79.1,530.9 80.1,530.8 81.1,531.4 82.1,531.2 83.1,531.1 84.1,531.4 85.1,531.1 86.1,531.3 87.1,531.3 88.1,530.9 89.1,531.0 90.1,531.0 91.1,530.9 92.1,531.2 93.1,531.0 94.1,531.1 95.1,530.9 96.1,531.3 97.1,531.0 98.1,531.1 99.1,531.2 100.1,531.3 101.1,531.1 102.1,531.4 103.1,531.1 104.1,531.1 105.1,531.1 106.1,530.8 107.1,531.1 108.1,530.9 109.1,530.8 110.1,531.3 111.1,530.9 112.1,531.1 113.1,531.2 114.1,531.1 115.1,531.0 116.1,531.1 117.1,531.1 118.1,531.3 119.1,530.9 120.1,531.1 121.1,530.9 122.1,531.0 123.1,531.3 124.1,531.1 125.1,531.1 126.1,531.3 127.1,531.3 128.1,531.1 129.1,531.2 130.1,531.1 131.1,531.1 132.1,531.2 133.1,531.1 134.1,531.1 135.1,531.1 136.1,531.4 137.1,531.2 138.1,531.3 139.1,531.4 140.1,531.0 141.1,531.1 142.1,531.4 143.1,531.3 144.1,530.9 145.1,530.9 146.1,531.1 147.1,530.8 148.1,530.9 149.1,530.8 150.1,531.2 151.1,531.3 152.1,531.3 153.1,530.9 154.1,531.2 155.1,531.2 156.1,530.9 157.1,531.3 158.1,531.4 159.1,530.9 160.1,531.4 161.1,531.0 162.1,531.1 163.1,531.4 164.1,531.3 165.1,530.9 166.1,531.1 167.1,531.1 168.1,531.0 169.1,530.9 170.1,531.0 171.1,531.2 171.7,530.8"/>
<line x1="38.00" y1="531.10" x2="38.00" y2="525.30" stroke="#777" stroke-width="0.70"/>
<line x1="77.10" y1="531.10" x2="77.10" y2="525.30" stroke="#777" stroke-width="0.70"/>
<polyline fill="none" stroke="#1e1e1e" stroke-width="1.35" points="14.6,601.5 15.6,601.5 16.6,601.2 17.6,601.4 18.6,601.6 19.6,601.5 20.6,601.2 21.6,601.8 22.6,601.7 23.6,601.8 24.6,601.3 25.6,601.4 26.6,601.2 27.6,601.7 28.6,601.4 29.6,601.3 30.6,601.5 31.6,601.7 32.6,601.7 33.6,601.4 34.6,601.3 35.6,601.8 36.6,601.5 37.6,601.6 38.6,601.3 39.6,601.2 40.6,601.6 41.6,601.5 42.6,601.2 43.6,601.8 44.6,601.6 45.6,601.7 46.6,601.3 47.6,601.7 48.6,601.2 49.6,601.7 50.6,601.5 51.6,601.4 52.6,601.5 53.6,601.8 54.6,601.4 55.6,601.3 56.6,601.5 57.6,601.3 58.6,601.3 59.6,601.3 60.6,601.2 61.6,601.3 62.6,601.4 63.6,601.4 64.6,601.7 65.6,601.4 66.6,601.5 67.6,601.3 68.6,601.4 69.6,601.2 70.6,601.4 71.6,601.2 72.6,601.6 73.6,601.5 74.6,601.3 75.6,601.5 76.6,601.8 77.6,601.3 78.6,601.7 79.6,601.5 80.6,601.5 81.6,601.7 82.6,601.4 83.6,601.5 84.6,601.6 85.6,601.8 86.6,601.4 87.6,601.7 88.6,601.6 89.6,601.6 90.6,601.4 91.6,601.4 92.6,601.2 93.6,601.3 94.6,601.2 95.6,601.6 96.6,601.4 97.6,601.3 98.6,601.3 99.6,601.7 100.6,601.7 101.6,601.6 102.6,601.4 103.6,601.3 104.6,601.4 105.6,601.5 106.6,601.3 107.6,601.5 108.6,601.4 109.6,601.8 110.6,601.8 111.6,601.5 112.6,601.3 113.6,601.8 114.6,601.4 115.6,601.4 116.6,601.2 117.6,601.4 118.6,601.5 119.6,601.5 120.6,601.3 121.6,601.5 122.6,601.2 123.6,601.4 124.6,601.3 125.6,601.4 126.6,601.2 127.6,601.2 128.6,601.4 129.6,601.3 130.6,601.6 131.6,601.5 132.6,601.7 133.6,601.6 134.6,601.6 135.6,601.7 136.6,601.4 137.6,601.4 138.6,601.8 139.6,601.3 140.6,601.6 141.6,601.6 142.6,601.2 143.6,601.7 144.6,601.7 145.6,601.6 146.6,601.6 147.6,601.7 148.6,601.3 149.6,601.5 150.6,601.5 151.6,601.7 152.6,601.7 153.6,601.7 154.6,601.6 155.6,601.7 156.6,601.6 157.6,601.6 158.6,601.3 159.6,601.2 160.6,601.3 161.6,601.4 162.6,601.3 163.6,601.7 164.6,601.5 165.6,601.6 166.6,601.6 167.6,601.6 168.6,601.5 169.6,601.2 170.0,601.7"/>
<polyline fill="none" stroke="#1e1e1e" stroke-width="1.35" points="17.5,674.0 18.5,673.9 19.5,673.9 20.5,674.0 21.5,673.6 22.5,674.0 23.5,673.8 24.5,673.6 25.5,673.8 26.5,674.0 27.5,673.7 28.5,674.0 29.5,674.2 30.5,673.9 31.5,673.8 32.5,673.9 33.5,674.0 34.5,674.1 35.5,674.0 36.5,674.0 37.5,673.6 38.5,673.7 38.8,673.8"/>
<polyline fill="none" stroke="#1e1e1e" stroke-width="1.35" points="38.8,702.9 39.8,702.7 40.8,702.8 41.8,702.5 42.8,702.5 43.8,702.7 44.8,702.9 45.8,702.9 46.8,702.9 47.8,702.7 48.8,702.8 49.8,702.8 50.8,702.8 51.8,702.6 52.8,703.0 53.8,702.6 54.8,703.1 55.8,703.1 56.8,702.5 57.8,702.8 58.8,703.0 59.8,703.1 60.8,702.8 61.8,702.7 62.8,702.6 63.8,703.1 64.8,702.6 65.8,702.8 66.8,702.6 67.8,702.8 68.8,703.1 69.8,702.6 70.8,703.0 71.8,702.8 72.8,703.0 73.8,702.9 74.8,702.6 75.8,703.0 76.8,702.8 77.7,702.5"/>
<polyline fill="none" stroke="#1e1e1e" stroke-width="1.35" points="77.7,673.6 78.7,673.9 79.7,673.9 80.7,673.8 81.7,673.7 82.7,673.8 83.7,673.8 84.7,674.1 85.7,673.6 86.7,674.1 87.7,674.1 88.7,673.7 89.7,674.2 90.7,674.0 91.7,674.1 92.7,673.8 93.7,673.8 94.7,673.8 95.7,674.2 96.7,674.0 97.7,673.8 98.7,673.9 99.7,673.8 100.7,673.6 101.7,673.7 102.7,674.1 103.7,673.8 104.7,674.2 105.7,673.7 106.7,673.8 107.7,673.9 108.7,673.7 109.7,673.8 110.7,674.2 111.7,674.1 112.7,674.1 113.7,674.0 114.7,674.1 115.7,674.2 116.7,673.9 117.7,674.0 118.7,673.6 119.7,674.0 120.7,673.9 121.7,674.1 122.7,674.0 123.7,673.8 124.7,673.6 125.7,674.2 126.7,673.7 127.7,673.9 128.7,673.8 129.7,673.8 130.7,674.0 131.7,674.2 132.7,673.8 133.7,674.0 134.7,673.8 135.7,673.9 136.7,673.8 137.7,673.7 138.7,673.7 139.7,673.7 140.7,674.1 141.7,673.9 142.7,673.7 143.7,674.1 144.7,674.2 145.7,673.9 146.7,673.7 147.7,673.7 148.7,673.7 149.7,673.8 150.7,673.7 151.7,673.7 152.7,673.8 153.7,673.9 154.7,674.1 155.7,674.0 156.7,673.8 157.7,673.8 158.7,673.9 159.7,673.8 160.7,673.8 161.7,673.6 162.7,673.8 163.7,674.2 164.7,673.7 165.7,673.9 166.7,674.0 167.7,674.1 168.7,673.7 169.7,673.8 170.7,673.7 171.7,673.8 172.3,673.9"/>
<line x1="38.80" y1="673.90" x2="38.80" y2="702.80" stroke="#777" stroke-width="0.70"/>
<line x1="77.70" y1="673.90" x2="77.70" y2="702.80" stroke="#777" stroke-width="0.70"/>
<text x="25.90" y="427.40" font-size="12.20" textLength="58.20" lengthAdjust="spacingAndGlyphs" fill="#222" stroke="#222" stroke-width="0.12">+125 pA</text>
<text x="30.10" y="519.40" font-size="12.20" textLength="49.30" lengthAdjust="spacingAndGlyphs" fill="#222" stroke="#222" stroke-width="0.12">+25 pA</text>
<text x="27.70" y="719.60" font-size="12.20" textLength="53.50" lengthAdjust="spacingAndGlyphs" fill="#222" stroke="#222" stroke-width="0.12">-125 pA</text>
<text x="135.20" y="455.70" font-size="12.20" textLength="31.80" lengthAdjust="spacingAndGlyphs" fill="#222" stroke="#222" stroke-width="0.12">0 pA</text>
<text x="135.20" y="526.10" font-size="12.20" textLength="31.80" lengthAdjust="spacingAndGlyphs" fill="#222" stroke="#222" stroke-width="0.12">0 pA</text>
<text x="135.20" y="596.20" font-size="12.20" textLength="31.80" lengthAdjust="spacingAndGlyphs" fill="#222" stroke="#222" stroke-width="0.12">0 pA</text>
<text x="135.20" y="666.90" font-size="12.20" textLength="31.80" lengthAdjust="spacingAndGlyphs" fill="#222" stroke="#222" stroke-width="0.12">0 pA</text>
<polyline fill="none" stroke="#262626" stroke-width="1.00" stroke-linejoin="round" points="242.3,461.5 243.3,461.4 244.3,461.4 245.3,461.1 246.3,461.1 247.3,461.4 248.3,461.5 249.3,461.3 250.3,461.3 251.3,461.1 252.3,461.3 253.3,461.5 254.3,461.4 255.3,461.4 256.3,461.5 257.3,461.2 258.3,461.1 259.3,461.2 260.3,461.3 261.3,461.4 262.0,461.5 265.0,460.8 268.2,460.0"/>
<polyline fill="none" stroke="#3c3c3c" stroke-width="0.42" stroke-linejoin="round" points="268.2,460.0 268.4,459.5 268.8,457.0 268.9,406.6 269.0,467.2 269.7,462.5 270.3,459.5 270.7,457.0 270.8,410.4 271.0,467.3 271.6,462.5 272.2,459.5 272.6,457.0 272.7,410.1 272.9,467.1 273.5,462.5 274.1,459.5 274.5,457.0 274.6,409.6 274.8,467.3 275.4,462.5 276.0,459.5 276.4,457.0 276.5,409.9 276.7,467.4 277.3,462.5 277.9,459.5 278.3,457.0 278.4,410.4 278.6,466.8 279.2,462.5 279.8,459.5 280.2,457.0 280.3,409.8 280.5,466.8 281.1,462.5 281.8,459.5 282.2,457.0 282.3,410.4 282.4,467.2 283.1,462.5 283.7,459.5 284.1,457.0 284.2,409.7 284.3,466.6 285.0,462.5 285.6,459.5 286.0,457.0 286.1,410.2 286.2,467.1 286.9,462.5 287.5,459.5 287.9,457.0 288.0,410.1 288.1,466.7 288.8,462.5 289.4,459.5 289.8,457.0 289.9,410.3 290.0,466.5 290.7,462.5 291.3,459.5 291.7,457.0 291.8,410.0 291.9,467.0 292.6,462.5 293.2,459.5 293.6,457.0 293.7,410.8 293.8,467.1 294.5,462.5 295.1,459.5 295.5,457.0 295.6,410.7 295.8,467.0 296.4,462.5 297.0,459.5 297.4,457.0 297.5,409.9 297.7,466.7 298.3,462.5 298.9,459.5 299.3,457.0 299.4,410.8 299.6,467.2 300.2,462.5 300.8,459.5 301.2,457.0 301.3,410.0 301.5,466.5 302.1,462.5 302.7,459.5 303.1,457.0 303.2,410.2 303.4,467.2 304.0,462.5 304.6,459.5 305.0,457.0 305.1,410.1 305.3,466.8 305.9,462.5 306.6,459.5 307.0,457.0 307.1,410.4 307.2,467.4 307.9,462.5 308.5,459.5 308.9,457.0 309.0,409.9 309.1,466.5 309.8,462.5 310.4,459.5 310.8,457.0 310.9,410.0 311.0,466.9 311.7,462.5 312.3,459.5 312.7,457.0 312.8,410.4 312.9,466.7 313.6,462.5 314.2,459.5 314.6,457.0 314.7,410.6 314.8,467.2 315.5,462.5 316.1,459.5 316.5,457.0 316.6,410.2 316.7,466.7 317.4,462.5 318.0,459.5 318.4,457.0 318.5,410.8 318.6,466.8 319.3,462.5 319.4,465.6"/>
<path fill="none" stroke="#2a2a2a" stroke-width="0.80" stroke-linejoin="round" stroke-linecap="round" d=""/>
<polyline fill="none" stroke="#2a2a2a" stroke-width="0.70" stroke-linejoin="round" points="268.0,462.3 268.8,458.2 269.0,466.8 269.7,462.3 269.9,462.3 270.7,458.2 271.0,466.8 271.6,462.3 271.8,462.3 272.6,458.2 272.9,466.8 273.5,462.3 273.7,462.3 274.5,458.2 274.8,466.8 275.4,462.3 275.6,462.3 276.4,458.2 276.7,466.8 277.3,462.3 277.5,462.3 278.3,458.2 278.6,466.8 279.2,462.3 279.4,462.3 280.2,458.2 280.5,466.8 281.1,462.3 281.4,462.3 282.2,458.2 282.4,466.8 283.1,462.3 283.3,462.3 284.1,458.2 284.3,466.8 285.0,462.3 285.2,462.3 286.0,458.2 286.2,466.8 286.9,462.3 287.1,462.3 287.9,458.2 288.1,466.8 288.8,462.3 289.0,462.3 289.8,458.2 290.0,466.8 290.7,462.3 290.9,462.3 291.7,458.2 291.9,466.8 292.6,462.3 292.8,462.3 293.6,458.2 293.8,466.8 294.5,462.3 294.7,462.3 295.5,458.2 295.8,466.8 296.4,462.3 296.6,462.3 297.4,458.2 297.7,466.8 298.3,462.3 298.5,462.3 299.3,458.2 299.6,466.8 300.2,462.3 300.4,462.3 301.2,458.2 301.5,466.8 302.1,462.3 302.3,462.3 303.1,458.2 303.4,466.8 304.0,462.3 304.2,462.3 305.0,458.2 305.3,466.8 305.9,462.3 306.2,462.3 307.0,458.2 307.2,466.8 307.9,462.3 308.1,462.3 308.9,458.2 309.1,466.8 309.8,462.3 310.0,462.3 310.8,458.2 311.0,466.8 311.7,462.3 311.9,462.3 312.7,458.2 312.9,466.8 313.6,462.3 313.8,462.3 314.6,458.2 314.8,466.8 315.5,462.3 315.7,462.3 316.5,458.2 316.7,466.8 317.4,462.3 317.6,462.3 318.4,458.2 318.6,466.8 319.3,462.3"/>
<polyline fill="none" stroke="#262626" stroke-width="1.00" stroke-linejoin="round" points="319.4,465.6 322.0,465.0 326.0,463.8 332.0,462.6 340.0,462.0 350.0,461.7 352.0,461.6 353.0,461.4 354.0,461.4 355.0,461.6 356.0,461.4 357.0,461.7 358.0,461.5 359.0,461.4 360.0,461.4 361.0,461.5 362.0,461.6 363.0,461.7 364.0,461.4 365.0,461.5 366.0,461.4 367.0,461.7 368.0,461.4 369.0,461.3 370.0,461.3 371.0,461.5 372.0,461.7 373.0,461.7 374.0,461.6 375.0,461.7 376.0,461.7 377.0,461.4 378.0,461.4 379.0,461.7 380.0,461.6 381.0,461.3 382.0,461.6 383.0,461.5 384.0,461.4 385.0,461.4 386.0,461.4 387.0,461.3 388.0,461.4 389.0,461.4 390.0,461.7 391.0,461.3 392.0,461.7 393.0,461.4 394.0,461.4 395.0,461.6 396.0,461.6 397.0,461.5 398.0,461.3 399.0,461.5 400.0,461.4 401.0,461.7 402.0,461.4 403.0,461.4 404.0,461.7 405.0,461.3 406.0,461.5 407.0,461.6 408.0,461.6 409.0,461.3 410.0,461.3 411.0,461.3 412.0,461.7 413.0,461.4 414.0,461.6 415.0,461.7 416.0,461.4 417.0,461.4 418.0,461.7 419.0,461.5 420.0,461.4 421.0,461.6 422.0,461.4 423.0,461.4 424.0,461.3 425.0,461.6 426.0,461.7 427.0,461.6 428.0,461.7 429.0,461.3 430.0,461.4 431.0,461.5 432.0,461.7 433.0,461.7 434.0,461.5 435.0,461.4 436.0,461.5 437.0,461.5"/>
<polyline fill="none" stroke="#4a4a4a" stroke-width="0.55" stroke-linejoin="round" points="242.2,534.0 243.2,533.7 244.2,533.9 245.2,533.9 246.2,533.9 247.2,533.9 248.2,533.8 249.2,533.7 250.2,533.7 251.2,533.7 252.2,533.9 253.2,533.6 254.2,533.7 255.2,533.9 256.2,533.7 257.2,533.6 258.2,533.6 259.2,533.8 260.2,533.7 261.2,534.0 262.2,534.0 263.2,534.0 264.2,533.7 265.2,533.6 266.0,533.6 267.0,533.6 267.9,533.0 268.7,532.4 269.6,531.6 270.4,530.0 270.8,480.3 271.1,540.0 271.6,537.0 272.3,536.1 273.0,535.2 273.8,534.2 274.5,532.7 275.2,530.0 275.6,483.0 275.9,540.0 276.4,537.0 277.2,536.1 277.9,535.2 278.8,534.2 279.5,532.7 280.3,530.0 280.7,482.5 281.0,539.9 281.4,537.0 282.3,536.1 283.2,535.2 284.1,534.2 285.0,532.7 285.8,530.0 286.2,482.9 286.5,540.1 286.9,537.0 287.7,536.1 288.4,535.2 289.2,534.2 289.9,532.7 290.6,530.0 291.0,483.0 291.3,540.3 291.8,537.0 292.6,536.1 293.5,535.2 294.4,534.2 295.3,532.7 296.1,530.0 296.5,483.0 296.8,539.7 297.2,537.0 298.0,536.3 298.8,535.5 299.6,534.7 300.4,533.8 301.2,532.3 301.9,530.0 302.3,483.1 302.6,539.8 303.1,537.0 303.8,536.3 304.6,535.5 305.4,534.7 306.1,533.8 306.9,532.3 307.6,530.0 308.0,482.9 308.3,539.9 308.8,537.0 309.5,536.3 310.3,535.5 311.1,534.7 311.9,533.8 312.7,532.3 313.4,530.0 313.8,483.0 314.1,539.8 314.6,537.0 314.8,536.9 315.0,536.7 316.0,534.0 318.3,531.2 320.5,532.6 323.5,533.8 328.0,534.3 330.0,533.9 331.0,533.9 332.0,533.9 333.0,534.2 334.0,534.0 335.0,533.9 336.0,534.0 337.0,534.2 338.0,534.0 339.0,533.9 340.0,534.1 341.0,534.1 342.0,534.2 343.0,533.8 344.0,534.0 345.0,534.1 346.0,534.1 347.0,534.2 348.0,533.8 349.0,533.9 350.0,533.8 351.0,533.9 352.0,534.2 353.0,534.0 354.0,534.2 355.0,533.9 356.0,534.1 357.0,534.0 358.0,533.9 359.0,534.1 360.0,534.2 361.0,533.8 362.0,534.0 363.0,534.0 364.0,533.9 365.0,533.9 366.0,533.9 367.0,533.9 368.0,533.9 369.0,534.0 370.0,534.1 371.0,533.9 372.0,533.8 373.0,533.9 374.0,534.1 375.0,533.9 376.0,533.9 377.0,533.9 378.0,534.1 379.0,534.0 380.0,533.8 381.0,533.8 382.0,534.0 383.0,534.0 384.0,534.1 385.0,533.8 386.0,533.9 387.0,534.1 388.0,534.0 389.0,533.9 390.0,533.9 391.0,534.2 392.0,533.9 393.0,534.0 394.0,533.9 395.0,534.0 396.0,534.1 397.0,534.2 398.0,533.9 399.0,533.9 400.0,534.1 401.0,533.9 402.0,533.8 403.0,534.2 404.0,534.0 405.0,534.1 406.0,534.0 407.0,534.2 408.0,534.0 409.0,533.9 410.0,533.8 411.0,534.0 412.0,534.1 413.0,534.2 414.0,533.8 415.0,534.0 416.0,533.9 417.0,534.0 418.0,533.9 419.0,533.9 420.0,534.0 421.0,534.2 422.0,533.8 423.0,534.0 424.0,534.1 425.0,534.2 426.0,533.9 427.0,533.9 428.0,534.2 429.0,534.2 430.0,534.0 431.0,533.8 432.0,534.2 433.0,534.0 434.0,534.2 435.0,534.0 436.0,534.1 437.0,533.9 437.1,534.1"/>
<path fill="none" stroke="#262626" stroke-width="1.00" stroke-linejoin="round" stroke-linecap="round" d="M242.2,534.0 L243.2,533.7 L244.2,533.9 L245.2,533.9 L246.2,533.9 L247.2,533.9 L248.2,533.8 L249.2,533.7 L250.2,533.7 L251.2,533.7 L252.2,533.9 L253.2,533.6 L254.2,533.7 L255.2,533.9 L256.2,533.7 L257.2,533.6 L258.2,533.6 L259.2,533.8 L260.2,533.7 L261.2,534.0 L262.2,534.0 L263.2,534.0 L264.2,533.7 L265.2,533.6 L266.0,533.6 L267.0,533.6 L267.9,533.0 L268.7,532.4 L269.6,531.6 L270.4,530.0 M271.6,537.0 L272.3,536.1 L273.0,535.2 L273.8,534.2 L274.5,532.7 M276.4,537.0 L277.2,536.1 L277.9,535.2 L278.8,534.2 L279.5,532.7 M281.4,537.0 L282.3,536.1 L283.2,535.2 L284.1,534.2 L285.0,532.7 M286.9,537.0 L287.7,536.1 L288.4,535.2 L289.2,534.2 L289.9,532.7 M291.8,537.0 L292.6,536.1 L293.5,535.2 L294.4,534.2 L295.3,532.7 M297.2,537.0 L298.0,536.3 L298.8,535.5 L299.6,534.7 L300.4,533.8 L301.2,532.3 M303.1,537.0 L303.8,536.3 L304.6,535.5 L305.4,534.7 L306.1,533.8 L306.9,532.3 M308.8,537.0 L309.5,536.3 L310.3,535.5 L311.1,534.7 L311.9,533.8 L312.7,532.3 M314.6,537.0 L314.8,536.9 L315.0,536.7 M316.0,534.0 L318.3,531.2 L320.5,532.6 L323.5,533.8 L328.0,534.3 L330.0,533.9 L331.0,533.9 L332.0,533.9 L333.0,534.2 L334.0,534.0 L335.0,533.9 L336.0,534.0 L337.0,534.2 L338.0,534.0 L339.0,533.9 L340.0,534.1 L341.0,534.1 L342.0,534.2 L343.0,533.8 L344.0,534.0 L345.0,534.1 L346.0,534.1 L347.0,534.2 L348.0,533.8 L349.0,533.9 L350.0,533.8 L351.0,533.9 L352.0,534.2 L353.0,534.0 L354.0,534.2 L355.0,533.9 L356.0,534.1 L357.0,534.0 L358.0,533.9 L359.0,534.1 L360.0,534.2 L361.0,533.8 L362.0,534.0 L363.0,534.0 L364.0,533.9 L365.0,533.9 L366.0,533.9 L367.0,533.9 L368.0,533.9 L369.0,534.0 L370.0,534.1 L371.0,533.9 L372.0,533.8 L373.0,533.9 L374.0,534.1 L375.0,533.9 L376.0,533.9 L377.0,533.9 L378.0,534.1 L379.0,534.0 L380.0,533.8 L381.0,533.8 L382.0,534.0 L383.0,534.0 L384.0,534.1 L385.0,533.8 L386.0,533.9 L387.0,534.1 L388.0,534.0 L389.0,533.9 L390.0,533.9 L391.0,534.2 L392.0,533.9 L393.0,534.0 L394.0,533.9 L395.0,534.0 L396.0,534.1 L397.0,534.2 L398.0,533.9 L399.0,533.9 L400.0,534.1 L401.0,533.9 L402.0,533.8 L403.0,534.2 L404.0,534.0 L405.0,534.1 L406.0,534.0 L407.0,534.2 L408.0,534.0 L409.0,533.9 L410.0,533.8 L411.0,534.0 L412.0,534.1 L413.0,534.2 L414.0,533.8 L415.0,534.0 L416.0,533.9 L417.0,534.0 L418.0,533.9 L419.0,533.9 L420.0,534.0 L421.0,534.2 L422.0,533.8 L423.0,534.0 L424.0,534.1 L425.0,534.2 L426.0,533.9 L427.0,533.9 L428.0,534.2 L429.0,534.2 L430.0,534.0 L431.0,533.8 L432.0,534.2 L433.0,534.0 L434.0,534.2 L435.0,534.0 L436.0,534.1 L437.0,533.9 L437.1,534.1"/>
<polyline fill="none" stroke="#262626" stroke-width="1.10" points="242.2,599.8 243.2,599.9 244.2,600.2 245.2,600.2 246.2,599.8 247.2,599.8 248.2,599.9 249.2,600.0 250.2,599.9 251.2,599.8 252.2,599.8 253.2,600.1 254.2,600.2 255.2,599.7 256.2,600.0 257.2,600.2 258.2,599.7 259.2,600.2 260.2,599.8 261.2,600.1 262.2,600.0 263.2,600.1 264.2,599.9 265.2,600.0 266.2,600.0 267.2,600.0 268.2,600.1 269.2,600.0 270.2,600.0 271.2,599.7 272.2,600.1 273.2,600.0 274.2,599.8 275.2,600.2 276.2,600.2 277.2,600.0 278.2,599.8 279.2,600.0 280.2,599.8 281.2,599.8 282.2,600.0 283.2,599.8 284.2,600.0 285.2,600.0 286.2,599.7 287.2,600.1 288.2,599.7 289.2,600.1 290.2,600.2 291.2,600.0 292.2,599.7 293.2,600.0 294.2,599.9 295.2,600.3 296.2,599.8 297.2,600.2 298.2,600.3 299.2,600.1 300.2,600.2 301.2,599.8 302.2,600.3 303.2,600.0 304.2,600.3 305.2,600.2 306.2,599.8 307.2,600.2 308.2,600.3 309.2,599.7 310.2,599.9 311.2,600.2 312.2,599.8 313.2,600.2 314.2,599.9 315.2,600.2 316.2,599.8 317.2,600.0 318.2,600.3 319.2,599.8 320.2,599.9 321.2,600.0 322.2,599.9 323.2,599.7 324.2,599.8 325.2,599.8 326.2,600.3 327.2,600.1 328.2,600.2 329.2,599.8 330.2,600.2 331.2,599.8 332.2,600.0 333.2,600.1 334.2,599.9 335.2,600.2 336.2,600.0 337.2,600.0 338.2,600.2 339.2,599.8 340.2,600.3 341.2,600.1 342.2,599.9 343.2,600.2 344.2,599.9 345.2,600.3 346.2,600.0 347.2,599.9 348.2,600.2 349.2,600.0 350.2,599.8 351.2,600.1 352.2,599.7 353.2,600.2 354.2,599.9 355.2,600.1 356.2,600.3 357.2,600.1 358.2,600.1 359.2,599.9 360.2,599.7 361.2,599.7 362.2,599.8 363.2,600.1 364.2,600.0 365.2,600.0 366.2,600.2 367.2,599.8 368.2,599.8 369.2,600.1 370.2,599.7 371.2,599.7 372.2,599.9 373.2,599.8 374.2,599.9 375.2,599.8 376.2,600.1 377.2,600.1 378.2,599.8 379.2,600.1 380.2,600.0 381.2,599.8 382.2,600.3 383.2,599.8 384.2,599.8 385.2,599.8 386.2,600.1 387.2,600.2 388.2,600.2 389.2,599.9 390.2,599.9 391.2,599.7 392.2,600.1 393.2,600.0 394.2,599.9 395.2,600.1 396.2,600.0 397.2,600.3 398.2,600.1 399.2,599.8 400.2,600.2 401.2,599.7 402.2,600.0 403.2,599.9 404.2,599.8 405.2,599.7 406.2,600.2 407.2,599.7 408.2,600.0 409.2,600.3 410.2,599.8 411.2,599.8 412.2,600.1 413.2,600.0 414.2,600.1 415.2,600.2 416.2,599.8 417.2,599.9 418.2,599.9 419.2,599.7 420.2,600.2 421.2,600.2 422.2,600.1 423.2,599.7 424.2,600.2 425.2,600.1 426.2,600.0 427.2,600.1 428.2,600.0 429.2,599.8 430.2,599.8 431.2,599.8 432.2,599.7 433.2,599.9 434.2,600.1 435.2,600.1 436.2,600.2 437.1,600.1"/>
<polyline fill="none" stroke="#3a3a3a" stroke-width="0.65" stroke-linejoin="round" points="244.5,672.3 245.5,672.4 246.5,672.4 247.5,672.5 248.5,672.4 249.5,672.3 250.5,672.4 251.5,672.5 252.5,672.3 253.5,672.5 254.5,672.3 255.5,672.3 256.5,672.3 257.5,672.5 258.5,672.5 259.5,672.5 260.5,672.3 261.5,672.5 262.5,672.3 263.5,672.3 264.5,672.5 265.5,672.4 266.5,672.5 267.5,672.4 268.5,672.5 269.5,672.4 270.5,672.5 271.4,672.5 272.2,676.0 273.2,684.0 274.4,691.5 275.7,695.5 277.0,692.5 278.5,687.5 280.5,683.6 283.0,681.4 286.6,680.1 292.0,679.5 300.0,679.0 310.0,678.5 319.6,678.0 320.6,676.0 321.6,618.4 322.0,680.0 322.9,672.0 324.4,621.9 324.9,678.5 325.8,670.5 327.5,667.6 329.0,668.6 331.0,668.0 333.0,668.3 334.5,668.3 336.0,668.4 337.5,668.5 339.0,668.4 340.5,668.5 342.0,668.7 343.5,668.5 345.0,668.8 346.5,668.7 348.0,668.7 349.5,668.8 351.0,669.1 352.5,668.9 354.0,668.9 355.5,668.9 357.0,669.0 358.5,669.2 360.0,669.3 361.5,669.3 363.0,669.4 364.5,669.2 366.0,669.4 367.5,669.4 369.0,669.6 370.5,669.6 372.0,669.7 373.5,669.5 375.0,669.8 376.5,669.8 378.0,669.9 379.5,669.7 381.0,669.7 382.5,669.8 384.0,669.8 385.5,670.1 387.0,670.1 388.5,670.1 390.0,670.2 391.5,670.2 393.0,670.1 394.5,670.1 396.0,670.1 397.5,670.4 399.0,670.2 400.5,670.3 402.0,670.4 403.5,670.3 405.0,670.4 406.5,670.4 408.0,670.6 409.5,670.5 411.0,670.6 412.5,670.8 414.0,670.7 415.5,670.8 417.0,670.8 418.5,670.7 420.0,670.8 421.5,670.9 423.0,671.0 424.5,670.9 426.0,671.1 427.5,671.0 429.0,671.0 430.5,671.2 432.0,671.0 433.5,671.3 435.0,671.1 436.5,671.1 438.0,671.2"/>
<path fill="none" stroke="#262626" stroke-width="0.85" stroke-linejoin="round" stroke-linecap="round" d="M244.5,672.3 L245.5,672.4 L246.5,672.4 L247.5,672.5 L248.5,672.4 L249.5,672.3 L250.5,672.4 L251.5,672.5 L252.5,672.3 L253.5,672.5 L254.5,672.3 L255.5,672.3 L256.5,672.3 L257.5,672.5 L258.5,672.5 L259.5,672.5 L260.5,672.3 L261.5,672.5 L262.5,672.3 L263.5,672.3 L264.5,672.5 L265.5,672.4 L266.5,672.5 L267.5,672.4 L268.5,672.5 L269.5,672.4 L270.5,672.5 L271.4,672.5 M278.5,687.5 L280.5,683.6 L283.0,681.4 L286.6,680.1 L292.0,679.5 L300.0,679.0 L310.0,678.5 L319.6,678.0 L320.6,676.0 M325.8,670.5 L327.5,667.6 L329.0,668.6 L331.0,668.0 L333.0,668.3 L334.5,668.3 L336.0,668.4 L337.5,668.5 L339.0,668.4 L340.5,668.5 L342.0,668.7 L343.5,668.5 L345.0,668.8 L346.5,668.7 L348.0,668.7 L349.5,668.8 L351.0,669.1 L352.5,668.9 L354.0,668.9 L355.5,668.9 L357.0,669.0 L358.5,669.2 L360.0,669.3 L361.5,669.3 L363.0,669.4 L364.5,669.2 L366.0,669.4 L367.5,669.4 L369.0,669.6 L370.5,669.6 L372.0,669.7 L373.5,669.5 L375.0,669.8 L376.5,669.8 L378.0,669.9 L379.5,669.7 L381.0,669.7 L382.5,669.8 L384.0,669.8 L385.5,670.1 L387.0,670.1 L388.5,670.1 L390.0,670.2 L391.5,670.2 L393.0,670.1 L394.5,670.1 L396.0,670.1 L397.5,670.4 L399.0,670.2 L400.5,670.3 L402.0,670.4 L403.5,670.3 L405.0,670.4 L406.5,670.4 L408.0,670.6 L409.5,670.5 L411.0,670.6 L412.5,670.8 L414.0,670.7 L415.5,670.8 L417.0,670.8 L418.5,670.7 L420.0,670.8 L421.5,670.9 L423.0,671.0 L424.5,670.9 L426.0,671.1 L427.5,671.0 L429.0,671.0 L430.5,671.2 L432.0,671.0 L433.5,671.3 L435.0,671.1 L436.5,671.1 L438.0,671.2"/>
<text x="224.40" y="669.80" font-size="10.80" textLength="40.80" lengthAdjust="spacingAndGlyphs" fill="#222" stroke="#222" stroke-width="0.12">-58 mV</text>
<polyline fill="none" stroke="#8a8a8a" stroke-width="0.9" points="402.4,635.5 402.4,658.4 440.8,658.4"/>
<text transform="translate(397.30 658.00) rotate(-90)" x="0" y="0" font-size="12.20" textLength="30.60" lengthAdjust="spacingAndGlyphs" fill="#222" stroke="#222" stroke-width="0.12">50 mV</text>
<text x="407.70" y="669.10" font-size="10.80" textLength="26.60" lengthAdjust="spacingAndGlyphs" fill="#222" stroke="#222" stroke-width="0.12">0.5 s</text>
<polyline fill="none" stroke="#f03c3c" stroke-width="0.55" stroke-linejoin="round" points="480.6,463.6 481.2,461.4 481.8,456.8 482.2,409.5 482.5,467.7 482.9,463.6 483.8,463.1 484.6,462.7 485.4,462.2 486.2,461.7 487.0,461.1 487.8,460.4 488.6,459.6 489.4,458.4 490.2,456.8 490.6,408.7 490.9,467.3 491.4,463.6 492.1,463.1 492.9,462.7 493.7,462.2 494.4,461.7 495.2,461.1 495.9,460.4 496.7,459.6 497.5,458.4 498.2,456.8 498.6,409.2 498.9,467.5 499.4,463.6 500.1,463.1 500.9,462.5 501.7,462.0 502.5,461.4 503.3,460.7 504.1,459.8 504.9,458.6 505.6,456.8 506.0,408.9 506.3,467.3 506.8,463.6 507.2,463.3 507.6,463.1"/>
<path fill="none" stroke="#ea2626" stroke-width="0.90" stroke-linejoin="round" stroke-linecap="round" d="M482.9,463.6 L483.8,463.1 L484.6,462.7 L485.4,462.2 L486.2,461.7 L487.0,461.1 L487.8,460.4 L488.6,459.6 L489.4,458.4 L490.2,456.8 M491.4,463.6 L492.1,463.1 L492.9,462.7 L493.7,462.2 L494.4,461.7 L495.2,461.1 L495.9,460.4 L496.7,459.6 L497.5,458.4 L498.2,456.8 M499.4,463.6 L500.1,463.1 L500.9,462.5 L501.7,462.0 L502.5,461.4 L503.3,460.7 L504.1,459.8 L504.9,458.6 M506.8,463.6 L507.2,463.3 L507.6,463.1"/>
<polyline fill="none" stroke="#f03030" stroke-width="0.42" stroke-linejoin="round" points="507.6,463.1 508.2,459.5 508.6,457.0 508.7,407.0 508.8,467.2 509.5,462.0 510.1,459.5 510.5,457.0 510.6,409.7 510.7,467.1 511.4,462.0 512.0,459.5 512.4,457.0 512.5,409.8 512.6,467.1 513.3,462.0 513.9,459.5 514.3,457.0 514.4,409.1 514.5,467.5 515.2,462.0 515.8,459.5 516.2,457.0 516.3,409.4 516.5,467.0 517.1,462.0 517.8,459.5 518.2,457.0 518.3,409.5 518.4,467.0 519.1,462.0 519.8,459.5 520.2,457.0 520.3,409.7 520.4,467.5 521.1,462.0 521.8,459.5 522.2,457.0 522.3,409.7 522.4,467.4 523.1,462.0 523.8,459.5 524.2,457.0 524.3,409.3 524.5,467.2 525.1,462.0 525.9,459.5 526.3,457.0 526.4,409.3 526.5,467.6 527.2,462.0 527.9,459.5 528.3,457.0 528.4,409.0 528.6,467.6 529.2,462.0 530.0,459.5 530.4,457.0 530.5,408.9 530.7,467.1 531.3,462.0 532.2,459.5 532.6,457.0 532.7,409.2 532.8,467.6 533.5,462.0 534.3,459.5 534.7,457.0 534.8,409.4 534.9,467.2 535.6,462.0 536.5,459.5 536.9,457.0 537.0,409.8 537.1,467.1 537.8,462.0 538.6,459.5 539.0,457.0 539.1,409.4 539.3,467.3 539.9,462.0 540.8,459.5 541.2,457.0 541.3,409.7 541.5,467.5 542.1,462.0 543.1,459.5 543.5,457.0 543.6,409.5 543.7,467.2 544.4,462.0 545.3,459.5 545.7,457.0 545.8,409.2 546.0,467.0 546.6,462.0 547.6,459.5 548.0,457.0 548.1,409.7 548.2,467.4 548.9,462.0 549.9,459.5 550.3,457.0 550.4,409.6 550.5,467.0 551.2,462.0 552.2,459.5 552.6,457.0 552.7,409.3 552.9,467.5 553.5,462.0 554.5,459.5 554.9,457.0 555.0,409.5 555.2,467.0 555.8,462.0 556.9,459.5 557.3,457.0 557.4,409.4 557.5,467.6 558.2,462.0 558.2,465.0"/>
<path fill="none" stroke="#ea2626" stroke-width="0.75" stroke-linejoin="round" stroke-linecap="round" d=""/>
<polyline fill="none" stroke="#ea2626" stroke-width="0.60" stroke-linejoin="round" points="507.8,462.3 508.6,458.2 508.8,467.0 509.5,462.3 509.7,462.3 510.5,458.2 510.7,467.0 511.4,462.3 511.6,462.3 512.4,458.2 512.6,467.0 513.3,462.3 513.5,462.3 514.3,458.2 514.5,467.0 515.2,462.3 515.4,462.3 516.2,458.2 516.5,467.0 517.1,462.3 517.4,462.3 518.2,458.2 518.4,467.0 519.1,462.3 519.4,462.3 520.2,458.2 520.4,467.0 521.1,462.3 521.4,462.3 522.2,458.2 522.4,467.0 523.1,462.3 523.4,462.3 524.2,458.2 524.5,467.0 525.1,462.3 525.5,462.3 526.3,458.2 526.5,467.0 527.2,462.3 527.5,462.3 528.3,458.2 528.6,467.0 529.2,462.3 529.6,462.3 530.4,458.2 530.7,467.0 531.3,462.3 531.8,462.3 532.6,458.2 532.8,467.0 533.5,462.3 533.9,462.3 534.7,458.2 534.9,467.0 535.6,462.3 536.1,462.3 536.9,458.2 537.1,467.0 537.8,462.3 538.2,462.3 539.0,458.2 539.3,467.0 539.9,462.3 540.4,462.3 541.2,458.2 541.5,467.0 542.1,462.3 542.7,462.3 543.5,458.2 543.7,467.0 544.4,462.3 544.9,462.3 545.7,458.2 546.0,467.0 546.6,462.3 547.2,462.3 548.0,458.2 548.2,467.0 548.9,462.3 549.5,462.3 550.3,458.2 550.5,467.0 551.2,462.3 551.8,462.3 552.6,458.2 552.9,467.0 553.5,462.3 554.1,462.3 554.9,458.2 555.2,467.0 555.8,462.3 556.5,462.3 557.3,458.2 557.5,467.0 558.2,462.3"/>
<polyline fill="none" stroke="#f03c3c" stroke-width="0.55" stroke-linejoin="round" points="558.2,465.0 559.0,464.8 559.8,464.6 560.6,464.4 561.4,464.2 562.2,464.1 563.0,463.9 563.8,463.7 564.6,463.5 565.5,463.3 566.3,463.1 567.1,462.9 567.9,462.7 568.7,462.5 569.5,462.2 570.3,462.0 571.1,461.8 571.9,461.5 572.7,461.2 573.5,460.9 574.3,460.5 575.1,460.2 575.9,459.7 576.7,459.3 577.5,458.8 578.3,458.2 579.1,457.5 579.9,456.8 580.3,409.1 580.6,467.1 581.0,463.4 581.9,463.1 582.7,462.9 583.5,462.6 584.3,462.4 585.2,462.1 586.0,461.8 586.8,461.6 587.6,461.3 588.5,461.0 589.3,460.6 590.1,460.2 591.0,459.7 591.8,459.2 592.6,458.5 593.4,457.7 594.2,456.8 594.6,409.2 594.9,467.5 595.4,463.4 596.1,463.1 596.9,462.8 597.7,462.5 598.5,462.2 599.3,461.9 600.1,461.6 600.9,461.3 601.7,460.9 602.5,460.5 603.3,460.0 604.1,459.4 604.9,458.7 605.7,457.9 606.4,456.8 606.8,409.7 607.1,467.0 607.5,463.4 608.4,463.1 609.2,462.8 610.0,462.5 610.8,462.1 611.6,461.8 612.4,461.5 613.2,461.1 614.0,460.7 614.8,460.2 615.6,459.6 616.4,458.8 617.2,457.9 618.0,456.8 618.4,409.1 618.7,467.1 619.1,463.4 619.9,463.1 620.8,462.8 621.5,462.5 622.4,462.1 623.1,461.8 623.9,461.5 624.8,461.1 625.5,460.7 626.3,460.2 627.1,459.6 627.9,458.8 628.8,457.9 629.5,456.8 629.9,409.2 630.2,467.3 630.6,463.4 631.5,463.1 632.3,462.7 633.1,462.4 633.9,462.0 634.7,461.7 635.5,461.3 636.4,460.8 637.2,460.3 638.0,459.7 638.8,459.0 639.6,458.0 640.4,456.8 640.8,409.1 641.1,467.2 641.5,463.4 642.4,463.0 643.2,462.7 644.0,462.3 644.8,461.9 645.6,461.5 646.4,461.0 647.2,460.5 648.0,459.9 648.8,459.1 649.6,458.1 650.4,456.8 650.8,409.1 651.1,467.7 651.5,463.4 652.3,463.0 653.1,462.7 653.9,462.3 654.7,461.9 655.5,461.5 656.3,461.0 657.1,460.5 657.9,459.9 658.7,459.1 659.5,458.1 660.2,456.8 660.6,409.6 660.9,467.0 661.4,463.4 662.2,463.0 663.0,462.7 663.8,462.3 664.6,461.9 665.4,461.5 666.2,461.0 667.0,460.5 667.8,459.9 668.6,459.1 669.4,458.1 670.2,456.8 670.6,409.9 670.9,467.0 671.4,463.4 672.3,462.9 673.2,462.3 674.1,461.8 675.0,461.3 675.9,460.7"/>
<path fill="none" stroke="#ea2626" stroke-width="0.90" stroke-linejoin="round" stroke-linecap="round" d="M558.2,465.0 L559.0,464.8 L559.8,464.6 L560.6,464.4 L561.4,464.2 L562.2,464.1 L563.0,463.9 L563.8,463.7 L564.6,463.5 L565.5,463.3 L566.3,463.1 L567.1,462.9 L567.9,462.7 L568.7,462.5 L569.5,462.2 L570.3,462.0 L571.1,461.8 L571.9,461.5 L572.7,461.2 L573.5,460.9 L574.3,460.5 L575.1,460.2 L575.9,459.7 L576.7,459.3 L577.5,458.8 L578.3,458.2 L579.1,457.5 L579.9,456.8 M581.0,463.4 L581.9,463.1 L582.7,462.9 L583.5,462.6 L584.3,462.4 L585.2,462.1 L586.0,461.8 L586.8,461.6 L587.6,461.3 L588.5,461.0 L589.3,460.6 L590.1,460.2 L591.0,459.7 L591.8,459.2 L592.6,458.5 L593.4,457.7 L594.2,456.8 M595.4,463.4 L596.1,463.1 L596.9,462.8 L597.7,462.5 L598.5,462.2 L599.3,461.9 L600.1,461.6 L600.9,461.3 L601.7,460.9 L602.5,460.5 L603.3,460.0 L604.1,459.4 L604.9,458.7 L605.7,457.9 L606.4,456.8 M607.5,463.4 L608.4,463.1 L609.2,462.8 L610.0,462.5 L610.8,462.1 L611.6,461.8 L612.4,461.5 L613.2,461.1 L614.0,460.7 L614.8,460.2 L615.6,459.6 L616.4,458.8 L617.2,457.9 L618.0,456.8 M619.1,463.4 L619.9,463.1 L620.8,462.8 L621.5,462.5 L622.4,462.1 L623.1,461.8 L623.9,461.5 L624.8,461.1 L625.5,460.7 L626.3,460.2 L627.1,459.6 L627.9,458.8 L628.8,457.9 L629.5,456.8 M630.6,463.4 L631.5,463.1 L632.3,462.7 L633.1,462.4 L633.9,462.0 L634.7,461.7 L635.5,461.3 L636.4,460.8 L637.2,460.3 L638.0,459.7 L638.8,459.0 L639.6,458.0 L640.4,456.8 M641.5,463.4 L642.4,463.0 L643.2,462.7 L644.0,462.3 L644.8,461.9 L645.6,461.5 L646.4,461.0 L647.2,460.5 L648.0,459.9 L648.8,459.1 L649.6,458.1 L650.4,456.8 M651.5,463.4 L652.3,463.0 L653.1,462.7 L653.9,462.3 L654.7,461.9 L655.5,461.5 L656.3,461.0 L657.1,460.5 L657.9,459.9 L658.7,459.1 L659.5,458.1 L660.2,456.8 M661.4,463.4 L662.2,463.0 L663.0,462.7 L663.8,462.3 L664.6,461.9 L665.4,461.5 L666.2,461.0 L667.0,460.5 L667.8,459.9 L668.6,459.1 L669.4,458.1 L670.2,456.8 M671.4,463.4 L672.3,462.9 L673.2,462.3 L674.1,461.8 L675.0,461.3 L675.9,460.7"/>
<polyline fill="none" stroke="#f03c3c" stroke-width="0.50" stroke-linejoin="round" points="481.4,534.7 482.1,534.1 482.9,533.4 483.6,532.7 484.4,531.9 485.1,530.6 485.8,528.6 486.2,481.5 486.5,540.3 486.9,536.0 487.8,535.4 488.6,534.9 489.4,534.3 490.2,533.6 491.0,532.9 491.8,531.9 492.6,530.5 493.4,528.6 493.8,481.9 494.1,540.1 494.6,536.0 495.4,535.3 496.2,534.7 497.0,534.0 497.9,533.2 498.7,532.2 499.5,530.8 500.3,528.6 500.7,481.5 501.0,539.7 501.4,536.0 502.2,535.4 503.0,534.9 503.8,534.3 504.6,533.6 505.4,532.9 506.2,531.9 507.0,530.5 507.8,528.6 508.2,481.7 508.5,539.6 508.9,536.0 509.7,534.5 510.5,532.6 511.2,528.6 511.6,481.3 511.9,539.8 512.4,536.0 513.1,534.5 514.0,532.6 514.8,528.6 515.1,481.1 515.4,539.8 515.9,536.0 516.7,534.5 517.6,532.6 518.4,528.6 518.8,481.9 519.1,540.1 519.5,536.0 520.4,534.5 521.3,532.6 522.1,528.6 522.5,481.6 522.8,540.0 523.2,536.0 524.2,534.5 525.1,532.6 526.0,528.6 526.4,481.6 526.7,539.6 527.1,536.0 528.0,534.5 528.9,532.6 529.8,528.6 530.1,481.7 530.4,539.8 530.9,536.0 531.8,534.5 532.6,532.6 533.5,528.6 533.9,481.8 534.2,540.2 534.6,536.0 535.5,534.5 536.4,532.6 537.2,528.6 537.6,481.5 537.9,540.0 538.4,536.0 539.2,534.5 540.1,532.6 540.9,528.6 541.3,481.8 541.6,539.8 542.0,536.0 543.0,534.5 543.9,532.6 544.9,528.6 545.2,481.3 545.5,540.1 546.0,536.0 546.7,534.9 547.4,533.6 548.1,531.9 548.9,528.6 549.2,482.0 549.5,540.1 550.0,536.0 550.7,534.9 551.4,533.6 552.1,531.9 552.9,528.6 553.2,481.8 553.5,540.2 554.0,536.0 554.7,534.9 555.4,533.6 556.1,531.9 556.9,528.6 557.2,481.8 557.5,540.0 558.0,536.0 558.7,535.5 559.5,535.1 560.3,534.6 561.1,534.1 561.9,533.6 562.7,533.0 563.5,532.3 564.3,531.4 565.1,530.2 565.9,528.6 566.2,481.6 566.5,539.8 567.0,536.0 567.8,535.5 568.6,535.0 569.4,534.5 570.2,533.9 571.0,533.3 571.8,532.6 572.6,531.6 573.4,530.4 574.2,528.6 574.6,481.7 574.9,539.6 575.4,536.0 576.2,535.4 577.0,534.9 577.9,534.3 578.8,533.6 579.6,532.9 580.5,531.9 581.3,530.5 582.1,528.6 582.5,481.5 582.8,540.1 583.2,536.0 584.1,535.4 584.9,534.9 585.8,534.3 586.6,533.6 587.4,532.9 588.3,531.9 589.1,530.5 589.9,528.6 590.3,481.8 590.6,540.0 591.0,536.0 591.8,535.5 592.6,535.0 593.3,534.5 594.1,533.9 594.9,533.3 595.6,532.6 596.4,531.6 597.2,530.4 597.9,528.6 598.3,481.4 598.6,539.8 599.0,536.0 599.9,535.4 600.7,534.9 601.5,534.3 602.3,533.6 603.2,532.9 604.0,531.9 604.8,530.5 605.6,528.6 606.0,481.6 606.3,540.0 606.8,536.0 607.5,535.4 608.4,534.9 609.1,534.3 610.0,533.6 610.8,532.9 611.5,531.9 612.4,530.5 613.1,528.6 613.5,481.5 613.8,540.0 614.2,536.0 615.1,535.4 615.9,534.9 616.7,534.3 617.5,533.6 618.4,532.9 619.2,531.9 620.0,530.5 620.9,528.6 621.2,482.0 621.5,539.6 622.0,536.0 622.7,535.4 623.5,534.9 624.3,534.3 625.0,533.6 625.8,532.9 626.6,531.9 627.4,530.5 628.1,528.6 628.5,481.8 628.8,540.1 629.2,536.0 630.0,535.4 630.9,534.9 631.6,534.3 632.5,533.6 633.2,532.9 634.0,531.9 634.9,530.5 635.6,528.6 636.0,481.5 636.3,539.9 636.8,536.0 637.5,535.5 638.3,535.0 639.0,534.5 639.8,533.9 640.6,533.3 641.4,532.6 642.1,531.6 642.9,530.4 643.6,528.6 644.0,482.1 644.3,539.5 644.8,536.0 645.5,535.4 646.3,534.9 647.1,534.3 647.8,533.6 648.6,532.9 649.4,531.9 650.2,530.5 650.9,528.6 651.3,481.6 651.6,539.6 652.0,536.0 652.8,535.4 653.6,534.9 654.3,534.3 655.1,533.6 655.9,532.9 656.6,531.9 657.4,530.5 658.1,528.6 658.5,481.9 658.8,540.3 659.2,536.0 660.0,535.4 660.9,534.9 661.6,534.3 662.5,533.6 663.2,532.9 664.0,531.9 664.9,530.5 665.6,528.6 666.0,481.6 666.3,539.6 666.8,536.0 667.5,535.4 668.3,534.9 669.1,534.3 669.9,533.6 670.7,532.9 671.5,531.9 672.3,530.5 673.0,528.6 673.4,481.7 673.7,539.9 674.1,536.0 675.0,535.4 675.9,534.9"/>
<path fill="none" stroke="#ea2626" stroke-width="0.85" stroke-linejoin="round" stroke-linecap="round" d="M481.4,534.7 L482.1,534.1 L482.9,533.4 L483.6,532.7 L484.4,531.9 L485.1,530.6 M486.9,536.0 L487.8,535.4 L488.6,534.9 L489.4,534.3 L490.2,533.6 L491.0,532.9 L491.8,531.9 L492.6,530.5 M494.6,536.0 L495.4,535.3 L496.2,534.7 L497.0,534.0 L497.9,533.2 L498.7,532.2 L499.5,530.8 M501.4,536.0 L502.2,535.4 L503.0,534.9 L503.8,534.3 L504.6,533.6 L505.4,532.9 L506.2,531.9 L507.0,530.5 M508.9,536.0 L509.7,534.5 M512.4,536.0 L513.1,534.5 M515.9,536.0 L516.7,534.5 L517.6,532.6 M519.5,536.0 L520.4,534.5 L521.3,532.6 M523.2,536.0 L524.2,534.5 L525.1,532.6 M527.1,536.0 L528.0,534.5 L528.9,532.6 M530.9,536.0 L531.8,534.5 L532.6,532.6 M534.6,536.0 L535.5,534.5 L536.4,532.6 M538.4,536.0 L539.2,534.5 L540.1,532.6 M542.0,536.0 L543.0,534.5 L543.9,532.6 M546.0,536.0 L546.7,534.9 L547.4,533.6 M550.0,536.0 L550.7,534.9 L551.4,533.6 M554.0,536.0 L554.7,534.9 L555.4,533.6 M558.0,536.0 L558.7,535.5 L559.5,535.1 L560.3,534.6 L561.1,534.1 L561.9,533.6 L562.7,533.0 L563.5,532.3 L564.3,531.4 L565.1,530.2 L565.9,528.6 M567.0,536.0 L567.8,535.5 L568.6,535.0 L569.4,534.5 L570.2,533.9 L571.0,533.3 L571.8,532.6 L572.6,531.6 L573.4,530.4 L574.2,528.6 M575.4,536.0 L576.2,535.4 L577.0,534.9 L577.9,534.3 L578.8,533.6 L579.6,532.9 L580.5,531.9 L581.3,530.5 M583.2,536.0 L584.1,535.4 L584.9,534.9 L585.8,534.3 L586.6,533.6 L587.4,532.9 L588.3,531.9 L589.1,530.5 M591.0,536.0 L591.8,535.5 L592.6,535.0 L593.3,534.5 L594.1,533.9 L594.9,533.3 L595.6,532.6 L596.4,531.6 L597.2,530.4 M599.0,536.0 L599.9,535.4 L600.7,534.9 L601.5,534.3 L602.3,533.6 L603.2,532.9 L604.0,531.9 L604.8,530.5 M606.8,536.0 L607.5,535.4 L608.4,534.9 L609.1,534.3 L610.0,533.6 L610.8,532.9 L611.5,531.9 L612.4,530.5 M614.2,536.0 L615.1,535.4 L615.9,534.9 L616.7,534.3 L617.5,533.6 L618.4,532.9 L619.2,531.9 L620.0,530.5 M622.0,536.0 L622.7,535.4 L623.5,534.9 L624.3,534.3 L625.0,533.6 L625.8,532.9 L626.6,531.9 L627.4,530.5 M629.2,536.0 L630.0,535.4 L630.9,534.9 L631.6,534.3 L632.5,533.6 L633.2,532.9 L634.0,531.9 L634.9,530.5 M636.8,536.0 L637.5,535.5 L638.3,535.0 L639.0,534.5 L639.8,533.9 L640.6,533.3 L641.4,532.6 L642.1,531.6 L642.9,530.4 M644.8,536.0 L645.5,535.4 L646.3,534.9 L647.1,534.3 L647.8,533.6 L648.6,532.9 L649.4,531.9 L650.2,530.5 M652.0,536.0 L652.8,535.4 L653.6,534.9 L654.3,534.3 L655.1,533.6 L655.9,532.9 L656.6,531.9 L657.4,530.5 M659.2,536.0 L660.0,535.4 L660.9,534.9 L661.6,534.3 L662.5,533.6 L663.2,532.9 L664.0,531.9 L664.9,530.5 M666.8,536.0 L667.5,535.4 L668.3,534.9 L669.1,534.3 L669.9,533.6 L670.7,532.9 L671.5,531.9 L672.3,530.5 M674.1,536.0 L675.0,535.4 L675.9,534.9"/>
<polyline fill="none" stroke="#f03c3c" stroke-width="0.50" stroke-linejoin="round" points="481.7,606.0 482.5,605.0 483.2,604.0 484.0,602.6 484.8,599.8 485.1,551.8 485.4,609.0 485.9,605.4 486.6,604.9 487.4,604.4 488.2,603.9 489.0,603.3 489.8,602.5 490.6,601.4 491.4,599.8 491.8,551.7 492.1,609.3 492.5,605.4 493.3,604.9 494.1,604.4 494.9,603.9 495.7,603.3 496.5,602.5 497.3,601.4 498.1,599.8 498.4,551.6 498.7,608.9 499.2,605.4 500.0,604.9 500.8,604.4 501.5,603.9 502.3,603.3 503.1,602.5 503.9,601.4 504.7,599.8 505.1,552.0 505.4,608.8 505.8,605.4 506.6,604.9 507.4,604.4 508.2,603.9 509.0,603.3 509.8,602.5 510.6,601.4 511.4,599.8 511.7,551.8 512.0,608.9 512.5,605.4 513.3,604.9 514.1,604.4 514.9,603.9 515.7,603.3 516.4,602.5 517.2,601.4 518.0,599.8 518.4,551.9 518.7,608.7 519.1,605.4 519.9,604.9 520.7,604.4 521.5,603.9 522.3,603.3 523.1,602.5 523.9,601.4 524.7,599.8 525.0,552.1 525.3,608.9 525.8,605.4 526.6,604.9 527.4,604.4 528.2,603.9 529.0,603.3 529.8,602.5 530.6,601.4 531.4,599.8 531.7,551.2 532.0,608.8 532.5,605.4 533.2,604.9 534.0,604.4 534.8,603.9 535.6,603.3 536.4,602.5 537.2,601.4 538.0,599.8 538.4,551.5 538.7,608.6 539.1,605.4 539.9,604.9 540.7,604.4 541.5,603.9 542.3,603.3 543.1,602.5 543.9,601.4 544.7,599.8 545.0,551.5 545.3,608.9 545.8,605.4 546.6,604.9 547.4,604.4 548.1,603.9 548.9,603.3 549.7,602.5 550.5,601.4 551.3,599.8 551.7,551.8 552.0,608.9 552.4,605.4 553.2,604.9 554.0,604.4 554.8,603.9 555.6,603.3 556.4,602.5 557.2,601.4 558.0,599.8 558.3,551.4 558.6,608.8 559.1,605.4 559.9,604.9 560.7,604.4 561.5,603.9 562.3,603.3 563.0,602.5 563.8,601.4 564.6,599.8 565.0,551.8 565.3,609.4 565.7,605.4 566.5,604.9 567.3,604.4 568.1,603.9 568.9,603.3 569.7,602.5 570.5,601.4 571.3,599.8 571.6,551.6 571.9,608.8 572.4,605.4 573.2,604.9 574.0,604.4 574.8,603.9 575.6,603.3 576.4,602.5 577.2,601.4 577.9,599.8 578.3,551.9 578.6,608.9 579.0,605.4 579.8,604.9 580.6,604.4 581.4,603.9 582.2,603.3 583.0,602.5 583.8,601.4 584.6,599.8 585.0,551.3 585.3,608.7 585.7,605.4 586.5,604.9 587.3,604.4 588.1,603.9 588.9,603.3 589.7,602.5 590.5,601.4 591.3,599.8 591.6,551.9 591.9,609.2 592.4,605.4 593.2,604.9 594.0,604.4 594.7,603.9 595.5,603.3 596.3,602.5 597.1,601.4 597.9,599.8 598.3,551.7 598.6,609.0 599.0,605.4 599.8,604.9 600.6,604.4 601.4,603.9 602.2,603.3 603.0,602.5 603.8,601.4 604.6,599.8 604.9,551.7 605.2,608.8 605.7,605.4 606.5,604.9 607.3,604.4 608.1,603.9 608.9,603.3 609.6,602.5 610.4,601.4 611.2,599.8 611.6,552.1 611.9,608.9 612.3,605.4 613.1,604.9 613.9,604.4 614.7,603.9 615.5,603.3 616.3,602.5 617.1,601.4 617.9,599.8 618.2,551.7 618.5,609.3 619.0,605.4 619.8,604.9 620.6,604.4 621.4,603.9 622.2,603.3 623.0,602.5 623.8,601.4 624.5,599.8 624.9,551.9 625.2,609.0 625.6,605.4 626.4,604.9 627.2,604.4 628.0,603.9 628.8,603.3 629.6,602.5 630.4,601.4 631.2,599.8 631.6,551.4 631.9,609.0 632.3,605.4 633.1,604.9 633.9,604.4 634.7,603.9 635.5,603.3 636.3,602.5 637.1,601.4 637.9,599.8 638.2,551.2 638.5,609.3 639.0,605.4 639.8,604.9 640.6,604.4 641.3,603.9 642.1,603.3 642.9,602.5 643.7,601.4 644.5,599.8 644.9,551.5 645.2,609.3 645.6,605.4 646.4,604.9 647.2,604.4 648.0,603.9 648.8,603.3 649.6,602.5 650.4,601.4 651.2,599.8 651.5,551.4 651.8,608.9 652.3,605.4 653.1,604.9 653.9,604.4 654.7,603.9 655.5,603.3 656.2,602.5 657.0,601.4 657.8,599.8 658.2,551.4 658.5,608.9 658.9,605.4 659.7,604.9 660.5,604.4 661.3,603.9 662.1,603.3 662.9,602.5 663.7,601.4 664.5,599.8 664.8,551.3 665.1,608.6 665.6,605.4 666.4,604.9 667.2,604.4 668.0,603.9 668.8,603.3 669.6,602.5 670.4,601.4 671.1,599.8 671.5,551.8 671.8,608.8 672.2,605.4 673.1,605.0 674.0,604.5 674.9,604.1 675.8,603.6"/>
<path fill="none" stroke="#ea2626" stroke-width="0.85" stroke-linejoin="round" stroke-linecap="round" d="M481.7,606.0 L482.5,605.0 L483.2,604.0 L484.0,602.6 M485.9,605.4 L486.6,604.9 L487.4,604.4 L488.2,603.9 L489.0,603.3 L489.8,602.5 L490.6,601.4 L491.4,599.8 M492.5,605.4 L493.3,604.9 L494.1,604.4 L494.9,603.9 L495.7,603.3 L496.5,602.5 L497.3,601.4 L498.1,599.8 M499.2,605.4 L500.0,604.9 L500.8,604.4 L501.5,603.9 L502.3,603.3 L503.1,602.5 L503.9,601.4 L504.7,599.8 M505.8,605.4 L506.6,604.9 L507.4,604.4 L508.2,603.9 L509.0,603.3 L509.8,602.5 L510.6,601.4 L511.4,599.8 M512.5,605.4 L513.3,604.9 L514.1,604.4 L514.9,603.9 L515.7,603.3 L516.4,602.5 L517.2,601.4 L518.0,599.8 M519.1,605.4 L519.9,604.9 L520.7,604.4 L521.5,603.9 L522.3,603.3 L523.1,602.5 L523.9,601.4 L524.7,599.8 M525.8,605.4 L526.6,604.9 L527.4,604.4 L528.2,603.9 L529.0,603.3 L529.8,602.5 L530.6,601.4 L531.4,599.8 M532.5,605.4 L533.2,604.9 L534.0,604.4 L534.8,603.9 L535.6,603.3 L536.4,602.5 L537.2,601.4 L538.0,599.8 M539.1,605.4 L539.9,604.9 L540.7,604.4 L541.5,603.9 L542.3,603.3 L543.1,602.5 L543.9,601.4 L544.7,599.8 M545.8,605.4 L546.6,604.9 L547.4,604.4 L548.1,603.9 L548.9,603.3 L549.7,602.5 L550.5,601.4 L551.3,599.8 M552.4,605.4 L553.2,604.9 L554.0,604.4 L554.8,603.9 L555.6,603.3 L556.4,602.5 L557.2,601.4 L558.0,599.8 M559.1,605.4 L559.9,604.9 L560.7,604.4 L561.5,603.9 L562.3,603.3 L563.0,602.5 L563.8,601.4 L564.6,599.8 M565.7,605.4 L566.5,604.9 L567.3,604.4 L568.1,603.9 L568.9,603.3 L569.7,602.5 L570.5,601.4 L571.3,599.8 M572.4,605.4 L573.2,604.9 L574.0,604.4 L574.8,603.9 L575.6,603.3 L576.4,602.5 L577.2,601.4 L577.9,599.8 M579.0,605.4 L579.8,604.9 L580.6,604.4 L581.4,603.9 L582.2,603.3 L583.0,602.5 L583.8,601.4 L584.6,599.8 M585.7,605.4 L586.5,604.9 L587.3,604.4 L588.1,603.9 L588.9,603.3 L589.7,602.5 L590.5,601.4 L591.3,599.8 M592.4,605.4 L593.2,604.9 L594.0,604.4 L594.7,603.9 L595.5,603.3 L596.3,602.5 L597.1,601.4 L597.9,599.8 M599.0,605.4 L599.8,604.9 L600.6,604.4 L601.4,603.9 L602.2,603.3 L603.0,602.5 L603.8,601.4 L604.6,599.8 M605.7,605.4 L606.5,604.9 L607.3,604.4 L608.1,603.9 L608.9,603.3 L609.6,602.5 L610.4,601.4 L611.2,599.8 M612.3,605.4 L613.1,604.9 L613.9,604.4 L614.7,603.9 L615.5,603.3 L616.3,602.5 L617.1,601.4 L617.9,599.8 M619.0,605.4 L619.8,604.9 L620.6,604.4 L621.4,603.9 L622.2,603.3 L623.0,602.5 L623.8,601.4 L624.5,599.8 M625.6,605.4 L626.4,604.9 L627.2,604.4 L628.0,603.9 L628.8,603.3 L629.6,602.5 L630.4,601.4 L631.2,599.8 M632.3,605.4 L633.1,604.9 L633.9,604.4 L634.7,603.9 L635.5,603.3 L636.3,602.5 L637.1,601.4 L637.9,599.8 M639.0,605.4 L639.8,604.9 L640.6,604.4 L641.3,603.9 L642.1,603.3 L642.9,602.5 L643.7,601.4 L644.5,599.8 M645.6,605.4 L646.4,604.9 L647.2,604.4 L648.0,603.9 L648.8,603.3 L649.6,602.5 L650.4,601.4 L651.2,599.8 M652.3,605.4 L653.1,604.9 L653.9,604.4 L654.7,603.9 L655.5,603.3 L656.2,602.5 L657.0,601.4 L657.8,599.8 M658.9,605.4 L659.7,604.9 L660.5,604.4 L661.3,603.9 L662.1,603.3 L662.9,602.5 L663.7,601.4 L664.5,599.8 M665.6,605.4 L666.4,604.9 L667.2,604.4 L668.0,603.9 L668.8,603.3 L669.6,602.5 L670.4,601.4 L671.1,599.8 M672.2,605.4 L673.1,605.0 L674.0,604.5 L674.9,604.1 L675.8,603.6"/>
<polyline fill="none" stroke="#f03c3c" stroke-width="0.50" stroke-linejoin="round" points="481.4,676.5 482.1,676.0 482.9,675.4 483.6,674.8 484.4,674.2 485.1,673.4 485.9,672.2 486.6,670.4 487.0,623.1 487.3,681.1 487.8,677.0 488.5,676.5 489.3,676.1 490.1,675.6 490.9,675.1 491.6,674.6 492.4,673.9 493.2,673.1 494.0,672.0 494.8,670.4 495.1,623.4 495.4,681.2 495.9,677.0 496.7,676.5 497.4,676.1 498.2,675.6 499.1,675.1 499.8,674.6 500.6,673.9 501.4,673.1 502.2,672.0 503.0,670.4 503.4,623.5 503.7,681.4 504.1,677.0 504.2,677.0 504.2,677.0 505.5,676.5 507.2,675.0 508.2,674.4 509.2,679.0 510.4,687.0 511.9,692.6 513.4,690.0 515.0,686.0 517.0,683.2 519.5,681.6 521.6,680.9 528.0,680.3 540.0,679.8 557.0,679.2 557.4,678.5 557.6,675.9 557.9,670.4 558.2,621.7 558.5,681.2 559.0,677.0 559.4,674.9 559.8,670.4 560.1,623.8 560.4,681.6 560.9,677.0 561.4,674.9 561.9,670.4 562.2,623.0 562.5,681.6 563.0,677.0 563.5,674.9 564.0,670.4 564.4,623.8 564.7,681.5 565.1,677.0 565.9,674.9 566.6,670.4 567.0,623.0 567.3,681.6 567.8,677.0 568.8,674.9 569.8,670.4 570.1,623.5 570.4,680.9 570.9,677.0 571.5,675.6 572.2,673.9 572.9,670.4 573.3,622.9 573.6,681.7 574.0,677.0 574.9,675.6 575.7,673.9 576.5,670.4 576.9,623.6 577.2,681.1 577.6,677.0 578.4,675.6 579.2,673.9 579.9,670.4 580.3,623.0 580.6,681.0 581.0,677.0 581.8,675.6 582.6,673.9 583.4,670.4 583.8,623.1 584.1,681.5 584.5,677.0 585.4,675.6 586.3,673.9 587.1,670.4 587.5,623.2 587.8,681.0 588.2,677.0 589.2,675.6 590.1,673.9 591.0,670.4 591.4,623.8 591.7,681.5 592.1,677.0 592.9,676.0 593.6,674.9 594.3,673.3 595.0,670.4 595.4,623.1 595.7,681.6 596.1,677.0 596.9,676.0 597.6,674.9 598.3,673.3 599.0,670.4 599.4,623.5 599.7,681.5 600.1,677.0 601.0,676.0 601.8,674.9 602.7,673.3 603.5,670.4 603.9,623.6 604.2,681.6 604.6,677.0 605.5,676.0 606.2,674.9 607.0,673.3 607.9,670.4 608.2,623.7 608.5,681.6 609.0,677.0 609.8,676.0 610.7,674.9 611.5,673.3 612.4,670.4 612.7,623.1 613.0,681.5 613.5,677.0 614.3,676.0 615.2,674.9 616.0,673.3 616.9,670.4 617.2,623.4 617.5,681.5 618.0,677.0 618.8,676.2 619.6,675.3 620.4,674.3 621.2,672.9 622.0,670.4 622.4,623.3 622.7,681.6 623.1,677.0 623.9,676.2 624.8,675.3 625.5,674.3 626.4,672.9 627.1,670.4 627.5,623.5 627.8,681.1 628.2,677.0 629.0,676.2 629.8,675.3 630.6,674.3 631.4,672.9 632.1,670.4 632.5,623.1 632.8,681.0 633.2,677.0 634.1,676.2 635.0,675.3 635.9,674.3 636.8,672.9 637.6,670.4 638.0,623.4 638.3,680.9 638.8,677.0 639.6,676.2 640.4,675.3 641.3,674.3 642.1,672.9 642.9,670.4 643.3,623.4 643.6,681.0 644.0,677.0 644.9,676.2 645.7,675.3 646.6,674.3 647.4,672.9 648.2,670.4 648.6,623.4 648.9,681.3 649.4,677.0 650.1,676.3 650.9,675.6 651.6,674.9 652.4,673.9 653.1,672.6 653.9,670.4 654.2,623.4 654.5,681.6 655.0,677.0 655.7,676.3 656.5,675.6 657.2,674.9 657.9,673.9 658.7,672.6 659.4,670.4 659.8,622.9 660.1,681.6 660.5,677.0 661.3,676.3 662.1,675.6 663.0,674.9 663.8,673.9 664.5,672.6 665.4,670.4 665.7,623.4 666.0,681.4 666.5,677.0 667.2,676.3 668.0,675.6 668.8,674.9 669.5,673.9 670.3,672.6 671.0,670.4 671.4,623.6 671.7,681.6 672.1,677.0 673.0,676.5 673.8,676.1 674.6,675.6 675.4,675.1 676.2,674.6"/>
<path fill="none" stroke="#ea2626" stroke-width="0.85" stroke-linejoin="round" stroke-linecap="round" d="M481.4,676.5 L482.1,676.0 L482.9,675.4 L483.6,674.8 L484.4,674.2 L485.1,673.4 L485.9,672.2 M487.8,677.0 L488.5,676.5 L489.3,676.1 L490.1,675.6 L490.9,675.1 L491.6,674.6 L492.4,673.9 L493.2,673.1 L494.0,672.0 L494.8,670.4 M495.9,677.0 L496.7,676.5 L497.4,676.1 L498.2,675.6 L499.1,675.1 L499.8,674.6 L500.6,673.9 L501.4,673.1 L502.2,672.0 L503.0,670.4 M504.1,677.0 L504.2,677.0 L504.2,677.0 L505.5,676.5 L507.2,675.0 L508.2,674.4 M511.9,692.6 L513.4,690.0 M515.0,686.0 L517.0,683.2 L519.5,681.6 L521.6,680.9 L528.0,680.3 L540.0,679.8 L557.0,679.2 L557.4,678.5 M567.8,677.0 L568.8,674.9 M570.9,677.0 L571.5,675.6 M574.0,677.0 L574.9,675.6 L575.7,673.9 M577.6,677.0 L578.4,675.6 L579.2,673.9 M581.0,677.0 L581.8,675.6 L582.6,673.9 M584.5,677.0 L585.4,675.6 L586.3,673.9 M588.2,677.0 L589.2,675.6 L590.1,673.9 M592.1,677.0 L592.9,676.0 L593.6,674.9 L594.3,673.3 M596.1,677.0 L596.9,676.0 L597.6,674.9 L598.3,673.3 M600.1,677.0 L601.0,676.0 L601.8,674.9 L602.7,673.3 M604.6,677.0 L605.5,676.0 L606.2,674.9 L607.0,673.3 M609.0,677.0 L609.8,676.0 L610.7,674.9 L611.5,673.3 M613.5,677.0 L614.3,676.0 L615.2,674.9 L616.0,673.3 M618.0,677.0 L618.8,676.2 L619.6,675.3 L620.4,674.3 L621.2,672.9 M623.1,677.0 L623.9,676.2 L624.8,675.3 L625.5,674.3 L626.4,672.9 M628.2,677.0 L629.0,676.2 L629.8,675.3 L630.6,674.3 L631.4,672.9 M633.2,677.0 L634.1,676.2 L635.0,675.3 L635.9,674.3 L636.8,672.9 M638.8,677.0 L639.6,676.2 L640.4,675.3 L641.3,674.3 L642.1,672.9 M644.0,677.0 L644.9,676.2 L645.7,675.3 L646.6,674.3 L647.4,672.9 M649.4,677.0 L650.1,676.3 L650.9,675.6 L651.6,674.9 L652.4,673.9 L653.1,672.6 M655.0,677.0 L655.7,676.3 L656.5,675.6 L657.2,674.9 L657.9,673.9 L658.7,672.6 M660.5,677.0 L661.3,676.3 L662.1,675.6 L663.0,674.9 L663.8,673.9 L664.5,672.6 M666.5,677.0 L667.2,676.3 L668.0,675.6 L668.8,674.9 L669.5,673.9 L670.3,672.6 M672.1,677.0 L673.0,676.5 L673.8,676.1 L674.6,675.6 L675.4,675.1 L676.2,674.6"/>
</g>
<g id="panelD">
<text x="1.60" y="764.30" font-size="21.60" font-weight="bold" textLength="19.20" lengthAdjust="spacingAndGlyphs" fill="#1a1a1a" stroke="#1a1a1a" stroke-width="0.55">D</text>
<line x1="184.00" y1="770.60" x2="184.00" y2="1033.30" stroke="#1a1a1a" stroke-width="1.30"/>
<line x1="183.40" y1="1032.70" x2="559.70" y2="1032.70" stroke="#1a1a1a" stroke-width="1.30"/>
<line x1="178.80" y1="1032.70" x2="184.00" y2="1032.70" stroke="#1a1a1a" stroke-width="1.00"/>
<text x="172.33" y="1035.80" font-size="8.80" font-weight="bold" textLength="5.87" lengthAdjust="spacingAndGlyphs" fill="#1a1a1a" stroke="#1a1a1a" stroke-width="0.30">0</text>
<line x1="181.20" y1="1026.16" x2="184.00" y2="1026.16" stroke="#1a1a1a" stroke-width="1.00"/>
<line x1="181.20" y1="1019.62" x2="184.00" y2="1019.62" stroke="#1a1a1a" stroke-width="1.00"/>
<line x1="181.20" y1="1013.08" x2="184.00" y2="1013.08" stroke="#1a1a1a" stroke-width="1.00"/>
<line x1="181.20" y1="1006.54" x2="184.00" y2="1006.54" stroke="#1a1a1a" stroke-width="1.00"/>
<line x1="181.20" y1="1000.00" x2="184.00" y2="1000.00" stroke="#1a1a1a" stroke-width="1.00"/>
<line x1="181.20" y1="993.46" x2="184.00" y2="993.46" stroke="#1a1a1a" stroke-width="1.00"/>
<line x1="181.20" y1="986.92" x2="184.00" y2="986.92" stroke="#1a1a1a" stroke-width="1.00"/>
<line x1="181.20" y1="980.38" x2="184.00" y2="980.38" stroke="#1a1a1a" stroke-width="1.00"/>
<line x1="181.20" y1="973.84" x2="184.00" y2="973.84" stroke="#1a1a1a" stroke-width="1.00"/>
<line x1="178.80" y1="967.30" x2="184.00" y2="967.30" stroke="#1a1a1a" stroke-width="1.00"/>
<text x="166.45" y="970.40" font-size="8.80" font-weight="bold" textLength="11.75" lengthAdjust="spacingAndGlyphs" fill="#1a1a1a" stroke="#1a1a1a" stroke-width="0.30">10</text>
<line x1="181.20" y1="960.76" x2="184.00" y2="960.76" stroke="#1a1a1a" stroke-width="1.00"/>
<line x1="181.20" y1="954.22" x2="184.00" y2="954.22" stroke="#1a1a1a" stroke-width="1.00"/>
<line x1="181.20" y1="947.68" x2="184.00" y2="947.68" stroke="#1a1a1a" stroke-width="1.00"/>
<line x1="181.20" y1="941.14" x2="184.00" y2="941.14" stroke="#1a1a1a" stroke-width="1.00"/>
<line x1="181.20" y1="934.60" x2="184.00" y2="934.60" stroke="#1a1a1a" stroke-width="1.00"/>
<line x1="181.20" y1="928.06" x2="184.00" y2="928.06" stroke="#1a1a1a" stroke-width="1.00"/>
<line x1="181.20" y1="921.52" x2="184.00" y2="921.52" stroke="#1a1a1a" stroke-width="1.00"/>
<line x1="181.20" y1="914.98" x2="184.00" y2="914.98" stroke="#1a1a1a" stroke-width="1.00"/>
<line x1="181.20" y1="908.44" x2="184.00" y2="908.44" stroke="#1a1a1a" stroke-width="1.00"/>
<line x1="178.80" y1="901.90" x2="184.00" y2="901.90" stroke="#1a1a1a" stroke-width="1.00"/>
<text x="166.45" y="905.00" font-size="8.80" font-weight="bold" textLength="11.75" lengthAdjust="spacingAndGlyphs" fill="#1a1a1a" stroke="#1a1a1a" stroke-width="0.30">20</text>
<line x1="181.20" y1="895.36" x2="184.00" y2="895.36" stroke="#1a1a1a" stroke-width="1.00"/>
<line x1="181.20" y1="888.82" x2="184.00" y2="888.82" stroke="#1a1a1a" stroke-width="1.00"/>
<line x1="181.20" y1="882.28" x2="184.00" y2="882.28" stroke="#1a1a1a" stroke-width="1.00"/>
<line x1="181.20" y1="875.74" x2="184.00" y2="875.74" stroke="#1a1a1a" stroke-width="1.00"/>
<line x1="181.20" y1="869.20" x2="184.00" y2="869.20" stroke="#1a1a1a" stroke-width="1.00"/>
<line x1="181.20" y1="862.66" x2="184.00" y2="862.66" stroke="#1a1a1a" stroke-width="1.00"/>
<line x1="181.20" y1="856.12" x2="184.00" y2="856.12" stroke="#1a1a1a" stroke-width="1.00"/>
<line x1="181.20" y1="849.58" x2="184.00" y2="849.58" stroke="#1a1a1a" stroke-width="1.00"/>
<line x1="181.20" y1="843.04" x2="184.00" y2="843.04" stroke="#1a1a1a" stroke-width="1.00"/>
<line x1="178.80" y1="836.50" x2="184.00" y2="836.50" stroke="#1a1a1a" stroke-width="1.00"/>
<text x="166.45" y="839.60" font-size="8.80" font-weight="bold" textLength="11.75" lengthAdjust="spacingAndGlyphs" fill="#1a1a1a" stroke="#1a1a1a" stroke-width="0.30">30</text>
<line x1="181.20" y1="829.96" x2="184.00" y2="829.96" stroke="#1a1a1a" stroke-width="1.00"/>
<line x1="181.20" y1="823.42" x2="184.00" y2="823.42" stroke="#1a1a1a" stroke-width="1.00"/>
<line x1="181.20" y1="816.88" x2="184.00" y2="816.88" stroke="#1a1a1a" stroke-width="1.00"/>
<line x1="181.20" y1="810.34" x2="184.00" y2="810.34" stroke="#1a1a1a" stroke-width="1.00"/>
<line x1="181.20" y1="803.80" x2="184.00" y2="803.80" stroke="#1a1a1a" stroke-width="1.00"/>
<line x1="181.20" y1="797.26" x2="184.00" y2="797.26" stroke="#1a1a1a" stroke-width="1.00"/>
<line x1="181.20" y1="790.72" x2="184.00" y2="790.72" stroke="#1a1a1a" stroke-width="1.00"/>
<line x1="181.20" y1="784.18" x2="184.00" y2="784.18" stroke="#1a1a1a" stroke-width="1.00"/>
<line x1="181.20" y1="777.64" x2="184.00" y2="777.64" stroke="#1a1a1a" stroke-width="1.00"/>
<line x1="178.80" y1="771.10" x2="184.00" y2="771.10" stroke="#1a1a1a" stroke-width="1.00"/>
<text x="166.45" y="774.20" font-size="8.80" font-weight="bold" textLength="11.75" lengthAdjust="spacingAndGlyphs" fill="#1a1a1a" stroke="#1a1a1a" stroke-width="0.30">40</text>
<line x1="197.50" y1="1032.70" x2="197.50" y2="1036.70" stroke="#1a1a1a" stroke-width="1.00"/>
<text x="188.39" y="1045.20" font-size="8.90" font-weight="bold" textLength="22.62" lengthAdjust="spacingAndGlyphs" fill="#1a1a1a" stroke="#1a1a1a" stroke-width="0.30">-125</text>
<rect x="188.10" y="1025.83" width="7.4" height="6.87" fill="#000"/>
<line x1="191.80" y1="1025.83" x2="191.80" y2="1024.20" stroke="#000" stroke-width="1.10"/>
<line x1="189.50" y1="1024.20" x2="194.10" y2="1024.20" stroke="#000" stroke-width="1.10"/>
<rect x="200.50" y="942.71" width="6.5" height="89.99" fill="#ff0000" stroke="#1a0000" stroke-width="0.9"/>
<line x1="203.75" y1="962.00" x2="203.75" y2="923.42" stroke="#000" stroke-width="1.05"/>
<line x1="201.35" y1="923.42" x2="206.15" y2="923.42" stroke="#000" stroke-width="0.90"/>
<line x1="201.35" y1="962.00" x2="206.15" y2="962.00" stroke="#000" stroke-width="0.90"/>
<text x="198.13" y="924.10" font-size="11.20" textLength="11.33" lengthAdjust="spacingAndGlyphs" fill="#222" stroke="#222" stroke-width="0.20">**</text>
<line x1="229.10" y1="1032.70" x2="229.10" y2="1036.70" stroke="#1a1a1a" stroke-width="1.00"/>
<text x="219.99" y="1045.20" font-size="8.90" font-weight="bold" textLength="22.62" lengthAdjust="spacingAndGlyphs" fill="#1a1a1a" stroke="#1a1a1a" stroke-width="0.30">-100</text>
<rect x="219.70" y="1026.81" width="7.4" height="5.89" fill="#000"/>
<rect x="232.10" y="943.10" width="6.5" height="89.60" fill="#ff0000" stroke="#1a0000" stroke-width="0.9"/>
<line x1="235.35" y1="962.07" x2="235.35" y2="924.14" stroke="#000" stroke-width="1.05"/>
<line x1="232.95" y1="924.14" x2="237.75" y2="924.14" stroke="#000" stroke-width="0.90"/>
<line x1="232.95" y1="962.07" x2="237.75" y2="962.07" stroke="#000" stroke-width="0.90"/>
<text x="229.13" y="925.60" font-size="11.20" textLength="11.33" lengthAdjust="spacingAndGlyphs" fill="#222" stroke="#222" stroke-width="0.20">**</text>
<line x1="260.70" y1="1032.70" x2="260.70" y2="1036.70" stroke="#1a1a1a" stroke-width="1.00"/>
<text x="254.73" y="1045.20" font-size="8.90" font-weight="bold" textLength="16.34" lengthAdjust="spacingAndGlyphs" fill="#1a1a1a" stroke="#1a1a1a" stroke-width="0.30">-75</text>
<rect x="251.30" y="1026.81" width="7.4" height="5.89" fill="#000"/>
<rect x="263.70" y="955.53" width="6.5" height="77.17" fill="#ff0000" stroke="#1a0000" stroke-width="0.9"/>
<line x1="266.95" y1="973.84" x2="266.95" y2="937.22" stroke="#000" stroke-width="1.05"/>
<line x1="264.55" y1="937.22" x2="269.35" y2="937.22" stroke="#000" stroke-width="0.90"/>
<line x1="264.55" y1="973.84" x2="269.35" y2="973.84" stroke="#000" stroke-width="0.90"/>
<text x="264.57" y="936.60" font-size="11.20" textLength="5.67" lengthAdjust="spacingAndGlyphs" fill="#222" stroke="#222" stroke-width="0.20">*</text>
<line x1="292.30" y1="1032.70" x2="292.30" y2="1036.70" stroke="#1a1a1a" stroke-width="1.00"/>
<text x="286.33" y="1045.20" font-size="8.90" font-weight="bold" textLength="16.34" lengthAdjust="spacingAndGlyphs" fill="#1a1a1a" stroke="#1a1a1a" stroke-width="0.30">-50</text>
<rect x="282.90" y="1028.12" width="7.4" height="4.58" fill="#000"/>
<line x1="286.60" y1="1028.12" x2="286.60" y2="1026.81" stroke="#000" stroke-width="1.10"/>
<line x1="284.30" y1="1026.81" x2="288.90" y2="1026.81" stroke="#000" stroke-width="1.10"/>
<rect x="295.30" y="963.38" width="6.5" height="69.32" fill="#ff0000" stroke="#1a0000" stroke-width="0.9"/>
<line x1="298.55" y1="981.03" x2="298.55" y2="945.72" stroke="#000" stroke-width="1.05"/>
<line x1="296.15" y1="945.72" x2="300.95" y2="945.72" stroke="#000" stroke-width="0.90"/>
<line x1="296.15" y1="981.03" x2="300.95" y2="981.03" stroke="#000" stroke-width="0.90"/>
<text x="292.33" y="945.60" font-size="11.20" textLength="11.33" lengthAdjust="spacingAndGlyphs" fill="#222" stroke="#222" stroke-width="0.20">**</text>
<line x1="323.90" y1="1032.70" x2="323.90" y2="1036.70" stroke="#1a1a1a" stroke-width="1.00"/>
<text x="317.93" y="1045.20" font-size="8.90" font-weight="bold" textLength="16.34" lengthAdjust="spacingAndGlyphs" fill="#1a1a1a" stroke="#1a1a1a" stroke-width="0.30">-25</text>
<rect x="314.50" y="1030.08" width="7.4" height="2.62" fill="#000"/>
<line x1="318.20" y1="1030.08" x2="318.20" y2="1028.12" stroke="#000" stroke-width="1.10"/>
<line x1="315.90" y1="1028.12" x2="320.50" y2="1028.12" stroke="#000" stroke-width="1.10"/>
<rect x="326.90" y="970.24" width="6.5" height="62.46" fill="#ff0000" stroke="#1a0000" stroke-width="0.9"/>
<line x1="330.15" y1="988.23" x2="330.15" y2="952.26" stroke="#000" stroke-width="1.05"/>
<line x1="327.75" y1="952.26" x2="332.55" y2="952.26" stroke="#000" stroke-width="0.90"/>
<line x1="327.75" y1="988.23" x2="332.55" y2="988.23" stroke="#000" stroke-width="0.90"/>
<text x="323.93" y="949.10" font-size="11.20" textLength="11.33" lengthAdjust="spacingAndGlyphs" fill="#222" stroke="#222" stroke-width="0.20">**</text>
<line x1="355.50" y1="1032.70" x2="355.50" y2="1036.70" stroke="#1a1a1a" stroke-width="1.00"/>
<text x="353.66" y="1045.20" font-size="8.90" font-weight="bold" textLength="6.29" lengthAdjust="spacingAndGlyphs" fill="#1a1a1a" stroke="#1a1a1a" stroke-width="0.30">0</text>
<rect x="358.50" y="959.45" width="6.5" height="73.25" fill="#ff0000" stroke="#1a0000" stroke-width="0.9"/>
<line x1="361.75" y1="983.98" x2="361.75" y2="934.93" stroke="#000" stroke-width="1.05"/>
<line x1="359.35" y1="934.93" x2="364.15" y2="934.93" stroke="#000" stroke-width="0.90"/>
<line x1="359.35" y1="983.98" x2="364.15" y2="983.98" stroke="#000" stroke-width="0.90"/>
<line x1="387.10" y1="1032.70" x2="387.10" y2="1036.70" stroke="#1a1a1a" stroke-width="1.00"/>
<text x="382.11" y="1045.20" font-size="8.90" font-weight="bold" textLength="12.57" lengthAdjust="spacingAndGlyphs" fill="#1a1a1a" stroke="#1a1a1a" stroke-width="0.30">25</text>
<rect x="377.70" y="1009.16" width="7.4" height="23.54" fill="#000"/>
<line x1="381.40" y1="1009.16" x2="381.40" y2="998.69" stroke="#000" stroke-width="1.10"/>
<line x1="379.10" y1="998.69" x2="383.70" y2="998.69" stroke="#000" stroke-width="1.10"/>
<rect x="390.10" y="922.17" width="6.5" height="110.53" fill="#ff0000" stroke="#1a0000" stroke-width="0.9"/>
<line x1="393.35" y1="940.81" x2="393.35" y2="903.54" stroke="#000" stroke-width="1.05"/>
<line x1="390.95" y1="903.54" x2="395.75" y2="903.54" stroke="#000" stroke-width="0.90"/>
<line x1="390.95" y1="940.81" x2="395.75" y2="940.81" stroke="#000" stroke-width="0.90"/>
<text x="386.73" y="903.10" font-size="11.20" textLength="11.33" lengthAdjust="spacingAndGlyphs" fill="#222" stroke="#222" stroke-width="0.20">**</text>
<line x1="418.70" y1="1032.70" x2="418.70" y2="1036.70" stroke="#1a1a1a" stroke-width="1.00"/>
<text x="413.71" y="1045.20" font-size="8.90" font-weight="bold" textLength="12.57" lengthAdjust="spacingAndGlyphs" fill="#1a1a1a" stroke="#1a1a1a" stroke-width="0.30">50</text>
<rect x="409.30" y="979.92" width="7.4" height="52.78" fill="#000"/>
<line x1="413.00" y1="979.92" x2="413.00" y2="963.90" stroke="#000" stroke-width="1.10"/>
<line x1="410.70" y1="963.90" x2="415.30" y2="963.90" stroke="#000" stroke-width="1.10"/>
<rect x="421.70" y="895.36" width="6.5" height="137.34" fill="#ff0000" stroke="#1a0000" stroke-width="0.9"/>
<line x1="424.95" y1="914.00" x2="424.95" y2="876.72" stroke="#000" stroke-width="1.05"/>
<line x1="422.55" y1="876.72" x2="427.35" y2="876.72" stroke="#000" stroke-width="0.90"/>
<line x1="422.55" y1="914.00" x2="427.35" y2="914.00" stroke="#000" stroke-width="0.90"/>
<text x="418.33" y="875.50" font-size="11.20" textLength="11.33" lengthAdjust="spacingAndGlyphs" fill="#222" stroke="#222" stroke-width="0.20">**</text>
<line x1="450.30" y1="1032.70" x2="450.30" y2="1036.70" stroke="#1a1a1a" stroke-width="1.00"/>
<text x="445.31" y="1045.20" font-size="8.90" font-weight="bold" textLength="12.57" lengthAdjust="spacingAndGlyphs" fill="#1a1a1a" stroke="#1a1a1a" stroke-width="0.30">75</text>
<rect x="440.90" y="954.87" width="7.4" height="77.83" fill="#000"/>
<line x1="444.60" y1="954.87" x2="444.60" y2="933.29" stroke="#000" stroke-width="1.10"/>
<line x1="442.30" y1="933.29" x2="446.90" y2="933.29" stroke="#000" stroke-width="1.10"/>
<rect x="453.30" y="869.85" width="6.5" height="162.85" fill="#ff0000" stroke="#1a0000" stroke-width="0.9"/>
<line x1="456.55" y1="886.86" x2="456.55" y2="852.85" stroke="#000" stroke-width="1.05"/>
<line x1="454.15" y1="852.85" x2="458.95" y2="852.85" stroke="#000" stroke-width="0.90"/>
<line x1="454.15" y1="886.86" x2="458.95" y2="886.86" stroke="#000" stroke-width="0.90"/>
<text x="450.43" y="853.30" font-size="11.20" textLength="11.33" lengthAdjust="spacingAndGlyphs" fill="#222" stroke="#222" stroke-width="0.20">**</text>
<line x1="481.90" y1="1032.70" x2="481.90" y2="1036.70" stroke="#1a1a1a" stroke-width="1.00"/>
<text x="473.77" y="1045.20" font-size="8.90" font-weight="bold" textLength="18.86" lengthAdjust="spacingAndGlyphs" fill="#1a1a1a" stroke="#1a1a1a" stroke-width="0.30">100</text>
<rect x="472.50" y="939.83" width="7.4" height="92.87" fill="#000"/>
<line x1="476.20" y1="939.83" x2="476.20" y2="914.33" stroke="#000" stroke-width="1.10"/>
<line x1="473.90" y1="914.33" x2="478.50" y2="914.33" stroke="#000" stroke-width="1.10"/>
<rect x="484.90" y="857.43" width="6.5" height="175.27" fill="#ff0000" stroke="#1a0000" stroke-width="0.9"/>
<line x1="488.15" y1="875.41" x2="488.15" y2="839.44" stroke="#000" stroke-width="1.05"/>
<line x1="485.75" y1="839.44" x2="490.55" y2="839.44" stroke="#000" stroke-width="0.90"/>
<line x1="485.75" y1="875.41" x2="490.55" y2="875.41" stroke="#000" stroke-width="0.90"/>
<text x="484.47" y="837.20" font-size="11.20" textLength="5.67" lengthAdjust="spacingAndGlyphs" fill="#222" stroke="#222" stroke-width="0.20">*</text>
<line x1="513.50" y1="1032.70" x2="513.50" y2="1036.70" stroke="#1a1a1a" stroke-width="1.00"/>
<text x="505.37" y="1045.20" font-size="8.90" font-weight="bold" textLength="18.86" lengthAdjust="spacingAndGlyphs" fill="#1a1a1a" stroke="#1a1a1a" stroke-width="0.30">125</text>
<rect x="504.10" y="925.44" width="7.4" height="107.26" fill="#000"/>
<line x1="507.80" y1="925.44" x2="507.80" y2="896.67" stroke="#000" stroke-width="1.10"/>
<line x1="505.50" y1="896.67" x2="510.10" y2="896.67" stroke="#000" stroke-width="1.10"/>
<rect x="516.50" y="832.58" width="6.5" height="200.12" fill="#ff0000" stroke="#1a0000" stroke-width="0.9"/>
<line x1="519.75" y1="848.60" x2="519.75" y2="816.55" stroke="#000" stroke-width="1.05"/>
<line x1="517.35" y1="816.55" x2="522.15" y2="816.55" stroke="#000" stroke-width="0.90"/>
<line x1="517.35" y1="848.60" x2="522.15" y2="848.60" stroke="#000" stroke-width="0.90"/>
<text x="513.13" y="814.50" font-size="11.20" textLength="11.33" lengthAdjust="spacingAndGlyphs" fill="#222" stroke="#222" stroke-width="0.20">**</text>
<line x1="545.10" y1="1032.70" x2="545.10" y2="1036.70" stroke="#1a1a1a" stroke-width="1.00"/>
<text x="536.97" y="1045.20" font-size="8.90" font-weight="bold" textLength="18.86" lengthAdjust="spacingAndGlyphs" fill="#1a1a1a" stroke="#1a1a1a" stroke-width="0.30">150</text>
<rect x="535.70" y="915.63" width="7.4" height="117.07" fill="#000"/>
<line x1="539.40" y1="915.63" x2="539.40" y2="884.24" stroke="#000" stroke-width="1.10"/>
<line x1="537.10" y1="884.24" x2="541.70" y2="884.24" stroke="#000" stroke-width="1.10"/>
<rect x="548.10" y="816.23" width="6.5" height="216.47" fill="#ff0000" stroke="#1a0000" stroke-width="0.9"/>
<line x1="551.35" y1="832.25" x2="551.35" y2="800.20" stroke="#000" stroke-width="1.05"/>
<line x1="548.95" y1="800.20" x2="553.75" y2="800.20" stroke="#000" stroke-width="0.90"/>
<line x1="548.95" y1="832.25" x2="553.75" y2="832.25" stroke="#000" stroke-width="0.90"/>
<text x="545.53" y="796.90" font-size="11.20" textLength="11.33" lengthAdjust="spacingAndGlyphs" fill="#222" stroke="#222" stroke-width="0.20">**</text>
<rect x="201.6" y="781.6" width="13.2" height="10.2" fill="#000"/>
<rect x="202.1" y="801.8" width="12.2" height="9.8" fill="#ff0000" stroke="#1a0000" stroke-width="1"/>
<text x="223.00" y="791.00" font-size="13.70" textLength="54.90" lengthAdjust="spacingAndGlyphs" fill="#1a1a1a" stroke="#1a1a1a" stroke-width="0.12">Control</text>
<text x="223.50" y="810.90" font-size="13.70" textLength="126.80" lengthAdjust="spacingAndGlyphs" fill="#1a1a1a" stroke="#1a1a1a" stroke-width="0.12">100 nM κM-RIIIJ</text>
<text transform="translate(149.80 981.30) rotate(-90)" x="0" y="0" font-size="17.80" font-weight="bold" textLength="172.30" lengthAdjust="spacingAndGlyphs" fill="#1a1a1a" stroke="#1a1a1a" stroke-width="0.30">No. of Action Potentials</text>
<text x="286.90" y="1068.00" font-size="14.40" font-weight="bold" textLength="169.40" lengthAdjust="spacingAndGlyphs" fill="#1a1a1a" stroke="#1a1a1a" stroke-width="0.30">Current Injected (pA)</text>
</g>
</svg>
</body>
</html>
